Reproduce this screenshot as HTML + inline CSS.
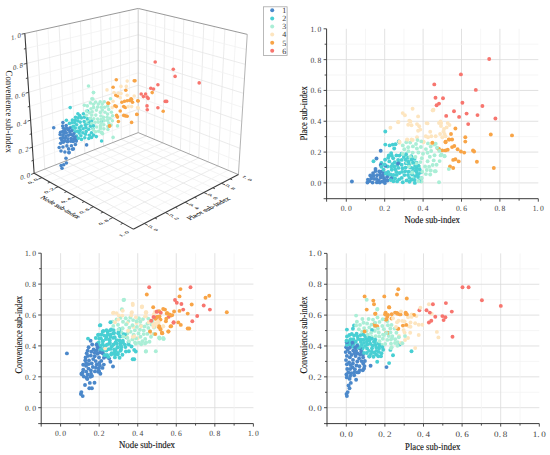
<!DOCTYPE html>
<html><head><meta charset="utf-8"><style>
html,body{margin:0;padding:0;background:#fff;width:550px;height:455px;overflow:hidden}
svg{display:block;font-family:"Liberation Serif",serif;text-rendering:geometricPrecision}
</style></head><body>
<svg width="550" height="455" viewBox="0 0 550 455">
<line x1="41.93" y1="177.68" x2="146.27" y2="135.98" stroke="#e6e6e6" stroke-width="0.8"/>
<line x1="44.80" y1="169.11" x2="144.23" y2="223.44" stroke="#e6e6e6" stroke-width="0.8"/>
<line x1="44.80" y1="169.11" x2="36.58" y2="30.89" stroke="#e6e6e6" stroke-width="0.8"/>
<line x1="146.27" y1="135.98" x2="146.85" y2="10.50" stroke="#e6e6e6" stroke-width="0.8"/>
<line x1="49.94" y1="182.19" x2="154.50" y2="139.43" stroke="#f1f1f1" stroke-width="0.8"/>
<line x1="55.20" y1="165.05" x2="154.90" y2="217.91" stroke="#f1f1f1" stroke-width="0.8"/>
<line x1="55.20" y1="165.05" x2="47.99" y2="28.36" stroke="#f1f1f1" stroke-width="0.8"/>
<line x1="154.50" y1="139.43" x2="155.73" y2="12.61" stroke="#f1f1f1" stroke-width="0.8"/>
<line x1="58.18" y1="186.83" x2="162.93" y2="142.96" stroke="#e6e6e6" stroke-width="0.8"/>
<line x1="65.34" y1="161.09" x2="165.25" y2="212.53" stroke="#e6e6e6" stroke-width="0.8"/>
<line x1="65.34" y1="161.09" x2="59.10" y2="25.91" stroke="#e6e6e6" stroke-width="0.8"/>
<line x1="162.93" y1="142.96" x2="164.85" y2="14.78" stroke="#e6e6e6" stroke-width="0.8"/>
<line x1="66.64" y1="191.61" x2="171.56" y2="146.57" stroke="#f1f1f1" stroke-width="0.8"/>
<line x1="75.24" y1="157.22" x2="175.31" y2="207.31" stroke="#f1f1f1" stroke-width="0.8"/>
<line x1="75.24" y1="157.22" x2="69.90" y2="23.52" stroke="#f1f1f1" stroke-width="0.8"/>
<line x1="171.56" y1="146.57" x2="174.20" y2="17.00" stroke="#f1f1f1" stroke-width="0.8"/>
<line x1="75.35" y1="196.51" x2="180.41" y2="150.28" stroke="#e6e6e6" stroke-width="0.8"/>
<line x1="84.89" y1="153.45" x2="185.09" y2="202.24" stroke="#e6e6e6" stroke-width="0.8"/>
<line x1="84.89" y1="153.45" x2="80.43" y2="21.20" stroke="#e6e6e6" stroke-width="0.8"/>
<line x1="180.41" y1="150.28" x2="183.80" y2="19.29" stroke="#e6e6e6" stroke-width="0.8"/>
<line x1="84.30" y1="201.56" x2="189.48" y2="154.07" stroke="#f1f1f1" stroke-width="0.8"/>
<line x1="94.32" y1="149.77" x2="194.59" y2="197.31" stroke="#f1f1f1" stroke-width="0.8"/>
<line x1="94.32" y1="149.77" x2="90.68" y2="18.94" stroke="#f1f1f1" stroke-width="0.8"/>
<line x1="189.48" y1="154.07" x2="193.67" y2="21.63" stroke="#f1f1f1" stroke-width="0.8"/>
<line x1="93.52" y1="206.75" x2="198.77" y2="157.97" stroke="#e6e6e6" stroke-width="0.8"/>
<line x1="103.52" y1="146.18" x2="203.83" y2="192.51" stroke="#e6e6e6" stroke-width="0.8"/>
<line x1="103.52" y1="146.18" x2="100.67" y2="16.73" stroke="#e6e6e6" stroke-width="0.8"/>
<line x1="198.77" y1="157.97" x2="203.80" y2="24.04" stroke="#e6e6e6" stroke-width="0.8"/>
<line x1="103.01" y1="212.10" x2="208.30" y2="161.96" stroke="#f1f1f1" stroke-width="0.8"/>
<line x1="112.50" y1="142.67" x2="212.83" y2="187.84" stroke="#f1f1f1" stroke-width="0.8"/>
<line x1="112.50" y1="142.67" x2="110.40" y2="14.58" stroke="#f1f1f1" stroke-width="0.8"/>
<line x1="208.30" y1="161.96" x2="214.21" y2="26.52" stroke="#f1f1f1" stroke-width="0.8"/>
<line x1="112.79" y1="217.61" x2="218.08" y2="166.05" stroke="#e6e6e6" stroke-width="0.8"/>
<line x1="121.28" y1="139.24" x2="221.58" y2="183.30" stroke="#e6e6e6" stroke-width="0.8"/>
<line x1="121.28" y1="139.24" x2="119.89" y2="12.48" stroke="#e6e6e6" stroke-width="0.8"/>
<line x1="218.08" y1="166.05" x2="224.92" y2="29.06" stroke="#e6e6e6" stroke-width="0.8"/>
<line x1="122.86" y1="223.29" x2="228.11" y2="170.25" stroke="#f1f1f1" stroke-width="0.8"/>
<line x1="129.85" y1="135.89" x2="230.11" y2="178.88" stroke="#f1f1f1" stroke-width="0.8"/>
<line x1="129.85" y1="135.89" x2="129.15" y2="10.44" stroke="#f1f1f1" stroke-width="0.8"/>
<line x1="228.11" y1="170.25" x2="235.93" y2="31.68" stroke="#f1f1f1" stroke-width="0.8"/>
<line x1="33.26" y1="160.33" x2="138.23" y2="121.00" stroke="#f1f1f1" stroke-width="0.8"/>
<line x1="138.23" y1="121.00" x2="239.23" y2="161.59" stroke="#f1f1f1" stroke-width="0.8"/>
<line x1="32.39" y1="147.17" x2="138.22" y2="109.22" stroke="#e6e6e6" stroke-width="0.8"/>
<line x1="138.22" y1="109.22" x2="240.07" y2="148.39" stroke="#e6e6e6" stroke-width="0.8"/>
<line x1="31.50" y1="133.79" x2="138.22" y2="97.26" stroke="#f1f1f1" stroke-width="0.8"/>
<line x1="138.22" y1="97.26" x2="240.91" y2="134.97" stroke="#f1f1f1" stroke-width="0.8"/>
<line x1="30.60" y1="120.18" x2="138.21" y2="85.13" stroke="#e6e6e6" stroke-width="0.8"/>
<line x1="138.21" y1="85.13" x2="241.77" y2="121.33" stroke="#e6e6e6" stroke-width="0.8"/>
<line x1="29.68" y1="106.34" x2="138.21" y2="72.82" stroke="#f1f1f1" stroke-width="0.8"/>
<line x1="138.21" y1="72.82" x2="242.65" y2="107.45" stroke="#f1f1f1" stroke-width="0.8"/>
<line x1="28.75" y1="92.27" x2="138.20" y2="60.33" stroke="#e6e6e6" stroke-width="0.8"/>
<line x1="138.20" y1="60.33" x2="243.54" y2="93.34" stroke="#e6e6e6" stroke-width="0.8"/>
<line x1="27.80" y1="77.95" x2="138.20" y2="47.65" stroke="#f1f1f1" stroke-width="0.8"/>
<line x1="138.20" y1="47.65" x2="244.44" y2="78.98" stroke="#f1f1f1" stroke-width="0.8"/>
<line x1="26.83" y1="63.38" x2="138.19" y2="34.78" stroke="#e6e6e6" stroke-width="0.8"/>
<line x1="138.19" y1="34.78" x2="245.37" y2="64.37" stroke="#e6e6e6" stroke-width="0.8"/>
<line x1="25.85" y1="48.56" x2="138.19" y2="21.71" stroke="#f1f1f1" stroke-width="0.8"/>
<line x1="138.19" y1="21.71" x2="246.30" y2="49.50" stroke="#f1f1f1" stroke-width="0.8"/>
<line x1="24.85" y1="33.48" x2="138.18" y2="8.44" stroke="#999999" stroke-width="1"/>
<line x1="138.18" y1="8.44" x2="247.26" y2="34.37" stroke="#999999" stroke-width="1"/>
<line x1="238.41" y1="174.57" x2="247.26" y2="34.37" stroke="#b4b4b4" stroke-width="1"/>
<line x1="138.23" y1="132.62" x2="138.18" y2="8.44" stroke="#cccccc" stroke-width="1"/>
<line x1="34.12" y1="173.28" x2="138.23" y2="132.62" stroke="#999999" stroke-width="0.9"/>
<line x1="138.23" y1="132.62" x2="238.41" y2="174.57" stroke="#999999" stroke-width="0.9"/>
<line x1="34.12" y1="173.28" x2="24.85" y2="33.48" stroke="#3a3a3a" stroke-width="1.1"/>
<line x1="34.12" y1="173.28" x2="133.25" y2="229.14" stroke="#3a3a3a" stroke-width="1.1"/>
<line x1="133.25" y1="229.14" x2="238.41" y2="174.57" stroke="#3a3a3a" stroke-width="1.1"/>
<line x1="34.12" y1="173.28" x2="31.14" y2="174.44" stroke="#3a3a3a" stroke-width="0.9"/>
<line x1="33.26" y1="160.33" x2="31.46" y2="161.01" stroke="#3a3a3a" stroke-width="0.9"/>
<line x1="32.39" y1="147.17" x2="29.35" y2="148.26" stroke="#3a3a3a" stroke-width="0.9"/>
<line x1="31.50" y1="133.79" x2="29.66" y2="134.42" stroke="#3a3a3a" stroke-width="0.9"/>
<line x1="30.60" y1="120.18" x2="27.50" y2="121.19" stroke="#3a3a3a" stroke-width="0.9"/>
<line x1="29.68" y1="106.34" x2="27.81" y2="106.92" stroke="#3a3a3a" stroke-width="0.9"/>
<line x1="28.75" y1="92.27" x2="25.59" y2="93.19" stroke="#3a3a3a" stroke-width="0.9"/>
<line x1="27.80" y1="77.95" x2="25.89" y2="78.47" stroke="#3a3a3a" stroke-width="0.9"/>
<line x1="26.83" y1="63.38" x2="23.61" y2="64.21" stroke="#3a3a3a" stroke-width="0.9"/>
<line x1="25.85" y1="48.56" x2="23.90" y2="49.03" stroke="#3a3a3a" stroke-width="0.9"/>
<line x1="24.85" y1="33.48" x2="21.56" y2="34.20" stroke="#3a3a3a" stroke-width="0.9"/>
<line x1="41.93" y1="177.68" x2="38.33" y2="179.11" stroke="#3a3a3a" stroke-width="0.9"/>
<line x1="144.23" y1="223.44" x2="147.73" y2="225.35" stroke="#3a3a3a" stroke-width="0.9"/>
<line x1="49.94" y1="182.19" x2="47.78" y2="183.08" stroke="#3a3a3a" stroke-width="0.9"/>
<line x1="154.90" y1="217.91" x2="156.99" y2="219.02" stroke="#3a3a3a" stroke-width="0.9"/>
<line x1="58.18" y1="186.83" x2="54.55" y2="188.35" stroke="#3a3a3a" stroke-width="0.9"/>
<line x1="165.25" y1="212.53" x2="168.75" y2="214.34" stroke="#3a3a3a" stroke-width="0.9"/>
<line x1="66.64" y1="191.61" x2="64.46" y2="192.54" stroke="#3a3a3a" stroke-width="0.9"/>
<line x1="175.31" y1="207.31" x2="177.41" y2="208.36" stroke="#3a3a3a" stroke-width="0.9"/>
<line x1="75.35" y1="196.51" x2="71.70" y2="198.12" stroke="#3a3a3a" stroke-width="0.9"/>
<line x1="185.09" y1="202.24" x2="188.58" y2="203.94" stroke="#3a3a3a" stroke-width="0.9"/>
<line x1="84.30" y1="201.56" x2="82.11" y2="202.55" stroke="#3a3a3a" stroke-width="0.9"/>
<line x1="194.59" y1="197.31" x2="196.68" y2="198.30" stroke="#3a3a3a" stroke-width="0.9"/>
<line x1="93.52" y1="206.75" x2="89.85" y2="208.45" stroke="#3a3a3a" stroke-width="0.9"/>
<line x1="203.83" y1="192.51" x2="207.32" y2="194.12" stroke="#3a3a3a" stroke-width="0.9"/>
<line x1="103.01" y1="212.10" x2="100.81" y2="213.15" stroke="#3a3a3a" stroke-width="0.9"/>
<line x1="212.83" y1="187.84" x2="214.92" y2="188.78" stroke="#3a3a3a" stroke-width="0.9"/>
<line x1="112.79" y1="217.61" x2="109.10" y2="219.42" stroke="#3a3a3a" stroke-width="0.9"/>
<line x1="221.58" y1="183.30" x2="225.06" y2="184.83" stroke="#3a3a3a" stroke-width="0.9"/>
<line x1="122.86" y1="223.29" x2="120.65" y2="224.40" stroke="#3a3a3a" stroke-width="0.9"/>
<line x1="230.11" y1="178.88" x2="232.19" y2="179.77" stroke="#3a3a3a" stroke-width="0.9"/>
<circle cx="62.7" cy="126.1" r="1.8" fill="#4b88ca"/>
<circle cx="85.5" cy="134.3" r="1.8" fill="#48cfd3"/>
<circle cx="91.6" cy="137.4" r="1.8" fill="#48cfd3"/>
<circle cx="121.0" cy="86.4" r="1.8" fill="#fde5bf"/>
<circle cx="141.2" cy="94.0" r="1.8" fill="#f7756e"/>
<circle cx="60.6" cy="143.3" r="1.8" fill="#4b88ca"/>
<circle cx="117.5" cy="117.1" r="1.8" fill="#f8a446"/>
<circle cx="102.6" cy="133.8" r="1.8" fill="#aaeed6"/>
<circle cx="91.7" cy="115.1" r="1.8" fill="#aaeed6"/>
<circle cx="199.2" cy="82.9" r="1.8" fill="#f7756e"/>
<circle cx="91.7" cy="120.8" r="1.8" fill="#48cfd3"/>
<circle cx="68.6" cy="135.2" r="1.8" fill="#4b88ca"/>
<circle cx="81.4" cy="117.9" r="1.8" fill="#48cfd3"/>
<circle cx="100.5" cy="128.6" r="1.8" fill="#aaeed6"/>
<circle cx="93.6" cy="92.6" r="1.8" fill="#aaeed6"/>
<circle cx="75.9" cy="139.5" r="1.8" fill="#4b88ca"/>
<circle cx="69.8" cy="132.1" r="1.8" fill="#4b88ca"/>
<circle cx="66.2" cy="125.6" r="1.8" fill="#4b88ca"/>
<circle cx="121.0" cy="93.4" r="1.8" fill="#fde5bf"/>
<circle cx="97.7" cy="119.1" r="1.8" fill="#aaeed6"/>
<circle cx="137.7" cy="107.5" r="1.8" fill="#fde5bf"/>
<circle cx="98.6" cy="131.3" r="1.8" fill="#aaeed6"/>
<circle cx="77.5" cy="131.2" r="1.8" fill="#48cfd3"/>
<circle cx="103.5" cy="117.4" r="1.8" fill="#aaeed6"/>
<circle cx="75.3" cy="128.1" r="1.8" fill="#48cfd3"/>
<circle cx="131.1" cy="98.7" r="1.8" fill="#f8a446"/>
<circle cx="107.9" cy="126.4" r="1.8" fill="#aaeed6"/>
<circle cx="108.7" cy="109.4" r="1.8" fill="#aaeed6"/>
<circle cx="66.4" cy="120.2" r="1.8" fill="#48cfd3"/>
<circle cx="73.5" cy="126.2" r="1.8" fill="#48cfd3"/>
<circle cx="67.1" cy="141.8" r="1.8" fill="#4b88ca"/>
<circle cx="78.2" cy="117.9" r="1.8" fill="#48cfd3"/>
<circle cx="100.5" cy="125.6" r="1.8" fill="#aaeed6"/>
<circle cx="155.2" cy="62.0" r="1.8" fill="#f7756e"/>
<circle cx="86.6" cy="144.9" r="1.8" fill="#4b88ca"/>
<circle cx="86.2" cy="131.4" r="1.8" fill="#48cfd3"/>
<circle cx="87.7" cy="123.8" r="1.8" fill="#48cfd3"/>
<circle cx="76.7" cy="124.8" r="1.8" fill="#48cfd3"/>
<circle cx="111.0" cy="125.1" r="1.8" fill="#aaeed6"/>
<circle cx="100.4" cy="112.4" r="1.8" fill="#aaeed6"/>
<circle cx="136.8" cy="114.2" r="1.8" fill="#f8a446"/>
<circle cx="91.9" cy="98.8" r="1.8" fill="#aaeed6"/>
<circle cx="60.1" cy="134.5" r="1.8" fill="#4b88ca"/>
<circle cx="64.9" cy="140.8" r="1.8" fill="#4b88ca"/>
<circle cx="74.6" cy="122.6" r="1.8" fill="#48cfd3"/>
<circle cx="173.3" cy="69.3" r="1.8" fill="#f7756e"/>
<circle cx="76.5" cy="136.0" r="1.8" fill="#48cfd3"/>
<circle cx="107.1" cy="117.2" r="1.8" fill="#aaeed6"/>
<circle cx="134.2" cy="96.0" r="1.8" fill="#fde5bf"/>
<circle cx="75.4" cy="144.5" r="1.8" fill="#4b88ca"/>
<circle cx="77.8" cy="121.0" r="1.8" fill="#48cfd3"/>
<circle cx="125.4" cy="115.9" r="1.8" fill="#f8a446"/>
<circle cx="91.0" cy="108.8" r="1.8" fill="#aaeed6"/>
<circle cx="62.9" cy="147.0" r="1.8" fill="#4b88ca"/>
<circle cx="165.2" cy="101.4" r="1.8" fill="#f7756e"/>
<circle cx="143.4" cy="96.6" r="1.8" fill="#f7756e"/>
<circle cx="101.7" cy="121.5" r="1.8" fill="#48cfd3"/>
<circle cx="107.6" cy="105.9" r="1.8" fill="#aaeed6"/>
<circle cx="157.9" cy="84.8" r="1.8" fill="#f7756e"/>
<circle cx="157.9" cy="107.7" r="1.8" fill="#f7756e"/>
<circle cx="127.2" cy="116.3" r="1.8" fill="#f8a446"/>
<circle cx="125.8" cy="90.2" r="1.8" fill="#f8a446"/>
<circle cx="79.2" cy="133.1" r="1.8" fill="#48cfd3"/>
<circle cx="72.8" cy="129.8" r="1.8" fill="#48cfd3"/>
<circle cx="62.7" cy="131.6" r="1.8" fill="#4b88ca"/>
<circle cx="116.3" cy="79.7" r="1.8" fill="#f8a446"/>
<circle cx="101.3" cy="122.7" r="1.8" fill="#aaeed6"/>
<circle cx="111.4" cy="112.2" r="1.8" fill="#aaeed6"/>
<circle cx="88.9" cy="122.8" r="1.8" fill="#aaeed6"/>
<circle cx="66.9" cy="145.9" r="1.8" fill="#4b88ca"/>
<circle cx="73.3" cy="141.4" r="1.8" fill="#4b88ca"/>
<circle cx="85.9" cy="127.6" r="1.8" fill="#48cfd3"/>
<circle cx="175.1" cy="76.4" r="1.8" fill="#f7756e"/>
<circle cx="63.2" cy="142.3" r="1.8" fill="#4b88ca"/>
<circle cx="72.4" cy="149.3" r="1.8" fill="#4b88ca"/>
<circle cx="136.9" cy="114.5" r="1.8" fill="#f8a446"/>
<circle cx="91.5" cy="132.8" r="1.8" fill="#48cfd3"/>
<circle cx="61.1" cy="165.6" r="1.8" fill="#4b88ca"/>
<circle cx="69.4" cy="123.4" r="1.8" fill="#48cfd3"/>
<circle cx="107.9" cy="103.1" r="1.8" fill="#f8a446"/>
<circle cx="81.5" cy="139.4" r="1.8" fill="#48cfd3"/>
<circle cx="93.1" cy="128.8" r="1.8" fill="#48cfd3"/>
<circle cx="63.4" cy="128.3" r="1.8" fill="#4b88ca"/>
<circle cx="95.8" cy="115.1" r="1.8" fill="#aaeed6"/>
<circle cx="112.3" cy="107.5" r="1.8" fill="#fde5bf"/>
<circle cx="79.2" cy="127.9" r="1.8" fill="#48cfd3"/>
<circle cx="121.9" cy="102.2" r="1.8" fill="#f8a446"/>
<circle cx="101.2" cy="132.6" r="1.8" fill="#aaeed6"/>
<circle cx="63.7" cy="164.7" r="1.8" fill="#4b88ca"/>
<circle cx="108.6" cy="103.2" r="1.8" fill="#f8a446"/>
<circle cx="98.3" cy="104.1" r="1.8" fill="#aaeed6"/>
<circle cx="63.0" cy="137.8" r="1.8" fill="#4b88ca"/>
<circle cx="93.6" cy="107.4" r="1.8" fill="#aaeed6"/>
<circle cx="125.4" cy="107.5" r="1.8" fill="#f8a446"/>
<circle cx="100.9" cy="116.0" r="1.8" fill="#aaeed6"/>
<circle cx="92.4" cy="126.5" r="1.8" fill="#aaeed6"/>
<circle cx="124.6" cy="101.3" r="1.8" fill="#f8a446"/>
<circle cx="61.0" cy="151.0" r="1.8" fill="#4b88ca"/>
<circle cx="85.4" cy="123.4" r="1.8" fill="#aaeed6"/>
<circle cx="148.2" cy="98.4" r="1.8" fill="#f7756e"/>
<circle cx="88.7" cy="129.2" r="1.8" fill="#48cfd3"/>
<circle cx="84.4" cy="117.3" r="1.8" fill="#48cfd3"/>
<circle cx="93.4" cy="92.5" r="1.8" fill="#aaeed6"/>
<circle cx="147.3" cy="109.8" r="1.8" fill="#f7756e"/>
<circle cx="126.3" cy="86.4" r="1.8" fill="#fde5bf"/>
<circle cx="129.8" cy="100.4" r="1.8" fill="#f8a446"/>
<circle cx="101.6" cy="132.2" r="1.8" fill="#aaeed6"/>
<circle cx="66.4" cy="163.0" r="1.8" fill="#4b88ca"/>
<circle cx="95.6" cy="102.1" r="1.8" fill="#aaeed6"/>
<circle cx="93.4" cy="129.9" r="1.8" fill="#aaeed6"/>
<circle cx="80.9" cy="135.7" r="1.8" fill="#48cfd3"/>
<circle cx="89.1" cy="121.7" r="1.8" fill="#48cfd3"/>
<circle cx="96.4" cy="110.1" r="1.8" fill="#aaeed6"/>
<circle cx="73.6" cy="138.8" r="1.8" fill="#4b88ca"/>
<circle cx="77.9" cy="113.7" r="1.8" fill="#48cfd3"/>
<circle cx="60.6" cy="132.3" r="1.8" fill="#4b88ca"/>
<circle cx="68.6" cy="148.9" r="1.8" fill="#4b88ca"/>
<circle cx="132.5" cy="102.2" r="1.8" fill="#f8a446"/>
<circle cx="104.3" cy="101.8" r="1.8" fill="#aaeed6"/>
<circle cx="66.6" cy="128.2" r="1.8" fill="#4b88ca"/>
<circle cx="65.4" cy="138.1" r="1.8" fill="#4b88ca"/>
<circle cx="67.9" cy="141.6" r="1.8" fill="#4b88ca"/>
<circle cx="108.8" cy="123.1" r="1.8" fill="#aaeed6"/>
<circle cx="128.1" cy="106.6" r="1.8" fill="#fde5bf"/>
<circle cx="66.0" cy="158.2" r="1.8" fill="#4b88ca"/>
<circle cx="123.7" cy="115.4" r="1.8" fill="#f8a446"/>
<circle cx="65.0" cy="130.4" r="1.8" fill="#4b88ca"/>
<circle cx="90.9" cy="123.7" r="1.8" fill="#48cfd3"/>
<circle cx="87.4" cy="120.3" r="1.8" fill="#aaeed6"/>
<circle cx="90.5" cy="126.3" r="1.8" fill="#48cfd3"/>
<circle cx="81.2" cy="126.1" r="1.8" fill="#48cfd3"/>
<circle cx="131.6" cy="122.4" r="1.8" fill="#f8a446"/>
<circle cx="88.5" cy="86.0" r="1.8" fill="#aaeed6"/>
<circle cx="101.2" cy="107.3" r="1.8" fill="#aaeed6"/>
<circle cx="87.6" cy="111.0" r="1.8" fill="#48cfd3"/>
<circle cx="82.8" cy="132.8" r="1.8" fill="#48cfd3"/>
<circle cx="69.0" cy="152.4" r="1.8" fill="#4b88ca"/>
<circle cx="112.4" cy="120.8" r="1.8" fill="#aaeed6"/>
<circle cx="98.3" cy="122.1" r="1.8" fill="#aaeed6"/>
<circle cx="71.2" cy="127.3" r="1.8" fill="#48cfd3"/>
<circle cx="103.8" cy="124.7" r="1.8" fill="#aaeed6"/>
<circle cx="113.1" cy="87.3" r="1.8" fill="#f8a446"/>
<circle cx="114.9" cy="105.7" r="1.8" fill="#f8a446"/>
<circle cx="76.3" cy="141.1" r="1.8" fill="#4b88ca"/>
<circle cx="110.5" cy="98.7" r="1.8" fill="#aaeed6"/>
<circle cx="107.6" cy="120.4" r="1.8" fill="#aaeed6"/>
<circle cx="60.7" cy="138.2" r="1.8" fill="#4b88ca"/>
<circle cx="75.1" cy="131.9" r="1.8" fill="#48cfd3"/>
<circle cx="86.4" cy="115.3" r="1.8" fill="#aaeed6"/>
<circle cx="104.6" cy="107.3" r="1.8" fill="#aaeed6"/>
<circle cx="73.4" cy="148.9" r="1.8" fill="#4b88ca"/>
<circle cx="127.2" cy="81.1" r="1.8" fill="#fde5bf"/>
<circle cx="75.2" cy="137.1" r="1.8" fill="#4b88ca"/>
<circle cx="107.6" cy="114.1" r="1.8" fill="#aaeed6"/>
<circle cx="120.2" cy="97.8" r="1.8" fill="#fde5bf"/>
<circle cx="127.2" cy="100.8" r="1.8" fill="#f8a446"/>
<circle cx="84.1" cy="121.5" r="1.8" fill="#48cfd3"/>
<circle cx="115.8" cy="95.2" r="1.8" fill="#f8a446"/>
<circle cx="127.2" cy="95.2" r="1.8" fill="#fde5bf"/>
<circle cx="120.2" cy="111.0" r="1.8" fill="#f8a446"/>
<circle cx="109.5" cy="126.1" r="1.8" fill="#f8a446"/>
<circle cx="89.3" cy="112.7" r="1.8" fill="#aaeed6"/>
<circle cx="163.2" cy="111.2" r="1.8" fill="#f8a446"/>
<circle cx="71.6" cy="130.8" r="1.8" fill="#4b88ca"/>
<circle cx="89.4" cy="135.2" r="1.8" fill="#48cfd3"/>
<circle cx="107.9" cy="129.5" r="1.8" fill="#aaeed6"/>
<circle cx="80.2" cy="122.1" r="1.8" fill="#48cfd3"/>
<circle cx="64.1" cy="133.3" r="1.8" fill="#4b88ca"/>
<circle cx="96.7" cy="127.0" r="1.8" fill="#aaeed6"/>
<circle cx="93.6" cy="135.1" r="1.8" fill="#48cfd3"/>
<circle cx="105.0" cy="112.2" r="1.8" fill="#aaeed6"/>
<circle cx="75.3" cy="120.1" r="1.8" fill="#48cfd3"/>
<circle cx="62.9" cy="122.5" r="1.8" fill="#4b88ca"/>
<circle cx="110.0" cy="118.2" r="1.8" fill="#aaeed6"/>
<circle cx="70.8" cy="141.2" r="1.8" fill="#4b88ca"/>
<circle cx="97.6" cy="107.1" r="1.8" fill="#aaeed6"/>
<circle cx="138.2" cy="101.0" r="1.8" fill="#f8a446"/>
<circle cx="61.9" cy="140.3" r="1.8" fill="#4b88ca"/>
<circle cx="78.4" cy="138.3" r="1.8" fill="#48cfd3"/>
<circle cx="63.2" cy="141.4" r="1.8" fill="#4b88ca"/>
<circle cx="70.2" cy="107.6" r="1.8" fill="#48cfd3"/>
<circle cx="152.2" cy="92.6" r="1.8" fill="#f8a446"/>
<circle cx="75.5" cy="117.3" r="1.8" fill="#48cfd3"/>
<circle cx="73.0" cy="141.2" r="1.8" fill="#4b88ca"/>
<circle cx="96.3" cy="136.6" r="1.8" fill="#48cfd3"/>
<circle cx="92.1" cy="111.7" r="1.8" fill="#aaeed6"/>
<circle cx="69.0" cy="152.7" r="1.8" fill="#4b88ca"/>
<circle cx="90.4" cy="102.9" r="1.8" fill="#aaeed6"/>
<circle cx="87.3" cy="105.9" r="1.8" fill="#aaeed6"/>
<circle cx="90.2" cy="118.6" r="1.8" fill="#48cfd3"/>
<circle cx="71.0" cy="138.5" r="1.8" fill="#4b88ca"/>
<circle cx="135.0" cy="80.8" r="1.8" fill="#f8a446"/>
<circle cx="118.4" cy="121.5" r="1.8" fill="#f8a446"/>
<circle cx="92.9" cy="99.0" r="1.8" fill="#aaeed6"/>
<circle cx="147.0" cy="97.1" r="1.8" fill="#f7756e"/>
<circle cx="62.9" cy="135.4" r="1.8" fill="#4b88ca"/>
<circle cx="87.4" cy="118.8" r="1.8" fill="#48cfd3"/>
<circle cx="73.8" cy="133.7" r="1.8" fill="#4b88ca"/>
<circle cx="102.2" cy="104.1" r="1.8" fill="#aaeed6"/>
<circle cx="101.0" cy="119.5" r="1.8" fill="#aaeed6"/>
<circle cx="109.6" cy="125.9" r="1.8" fill="#f8a446"/>
<circle cx="71.4" cy="145.8" r="1.8" fill="#4b88ca"/>
<circle cx="84.4" cy="105.2" r="1.8" fill="#aaeed6"/>
<circle cx="71.9" cy="122.8" r="1.8" fill="#48cfd3"/>
<circle cx="102.3" cy="110.0" r="1.8" fill="#aaeed6"/>
<circle cx="93.4" cy="104.3" r="1.8" fill="#aaeed6"/>
<circle cx="80.2" cy="130.5" r="1.8" fill="#48cfd3"/>
<circle cx="91.7" cy="123.6" r="1.8" fill="#aaeed6"/>
<circle cx="83.1" cy="128.7" r="1.8" fill="#48cfd3"/>
<circle cx="123.7" cy="106.6" r="1.8" fill="#f8a446"/>
<circle cx="53.7" cy="127.8" r="1.8" fill="#4b88ca"/>
<circle cx="88.8" cy="138.5" r="1.8" fill="#48cfd3"/>
<circle cx="68.4" cy="129.8" r="1.8" fill="#4b88ca"/>
<circle cx="90.3" cy="118.6" r="1.8" fill="#aaeed6"/>
<circle cx="134.2" cy="80.7" r="1.8" fill="#f8a446"/>
<circle cx="147.0" cy="105.9" r="1.8" fill="#f7756e"/>
<circle cx="93.5" cy="125.8" r="1.8" fill="#48cfd3"/>
<circle cx="66.0" cy="136.0" r="1.8" fill="#4b88ca"/>
<circle cx="107.0" cy="89.9" r="1.8" fill="#fde5bf"/>
<circle cx="84.8" cy="137.8" r="1.8" fill="#48cfd3"/>
<circle cx="150.8" cy="88.3" r="1.8" fill="#f7756e"/>
<circle cx="85.3" cy="124.9" r="1.8" fill="#48cfd3"/>
<circle cx="70.8" cy="134.5" r="1.8" fill="#4b88ca"/>
<circle cx="116.3" cy="106.6" r="1.8" fill="#f8a446"/>
<circle cx="116.6" cy="115.4" r="1.8" fill="#f8a446"/>
<circle cx="72.9" cy="135.7" r="1.8" fill="#4b88ca"/>
<circle cx="113.1" cy="137.4" r="1.8" fill="#aaeed6"/>
<circle cx="137.7" cy="100.8" r="1.8" fill="#f8a446"/>
<circle cx="101.6" cy="141.0" r="1.8" fill="#48cfd3"/>
<circle cx="67.9" cy="138.7" r="1.8" fill="#4b88ca"/>
<circle cx="114.0" cy="92.5" r="1.8" fill="#fde5bf"/>
<circle cx="117.5" cy="96.0" r="1.8" fill="#f8a446"/>
<circle cx="104.2" cy="120.6" r="1.8" fill="#aaeed6"/>
<circle cx="131.6" cy="106.6" r="1.8" fill="#fde5bf"/>
<circle cx="138.2" cy="108.0" r="1.8" fill="#fde5bf"/>
<circle cx="64.9" cy="152.0" r="1.8" fill="#4b88ca"/>
<circle cx="66.3" cy="132.8" r="1.8" fill="#4b88ca"/>
<circle cx="112.6" cy="115.7" r="1.8" fill="#aaeed6"/>
<circle cx="117.5" cy="125.9" r="1.8" fill="#aaeed6"/>
<circle cx="166.7" cy="101.4" r="1.8" fill="#f7756e"/>
<circle cx="103.9" cy="128.8" r="1.8" fill="#aaeed6"/>
<circle cx="86.4" cy="111.0" r="1.8" fill="#aaeed6"/>
<circle cx="118.4" cy="93.4" r="1.8" fill="#fde5bf"/>
<circle cx="100.2" cy="101.7" r="1.8" fill="#aaeed6"/>
<circle cx="83.4" cy="113.8" r="1.8" fill="#48cfd3"/>
<circle cx="95.2" cy="122.3" r="1.8" fill="#aaeed6"/>
<circle cx="113.1" cy="101.3" r="1.8" fill="#fde5bf"/>
<circle cx="59.2" cy="147.5" r="1.8" fill="#4b88ca"/>
<circle cx="95.7" cy="131.8" r="1.8" fill="#aaeed6"/>
<circle cx="131.6" cy="99.6" r="1.8" fill="#f8a446"/>
<circle cx="153.5" cy="89.0" r="1.8" fill="#f7756e"/>
<circle cx="79.7" cy="115.6" r="1.8" fill="#48cfd3"/>
<circle cx="93.8" cy="118.8" r="1.8" fill="#aaeed6"/>
<circle cx="100.7" cy="126.9" r="1.8" fill="#aaeed6"/>
<circle cx="62.0" cy="168.3" r="1.8" fill="#4b88ca"/>
<circle cx="72.4" cy="120.1" r="1.8" fill="#48cfd3"/>
<circle cx="69.8" cy="128.0" r="1.8" fill="#4b88ca"/>
<circle cx="145.6" cy="94.0" r="1.8" fill="#f7756e"/>
<text font-size="6.9" fill="#444" text-anchor="middle" transform="translate(25.32 176.28) skewY(-18)" y="2.4">0. 0</text>
<text font-size="6.9" fill="#444" text-anchor="middle" transform="translate(23.59 150.17) skewY(-18)" y="2.4">0. 2</text>
<text font-size="6.9" fill="#444" text-anchor="middle" transform="translate(21.80 123.18) skewY(-18)" y="2.4">0. 4</text>
<text font-size="6.9" fill="#444" text-anchor="middle" transform="translate(19.95 95.27) skewY(-18)" y="2.4">0. 6</text>
<text font-size="6.9" fill="#444" text-anchor="middle" transform="translate(18.03 66.38) skewY(-18)" y="2.4">0. 8</text>
<text font-size="6.9" fill="#444" text-anchor="middle" transform="translate(16.05 36.48) skewY(-18)" y="2.4">1. 0</text>
<text font-size="6.8" fill="#333" stroke="#333" stroke-width="0.15" text-anchor="middle" transform="matrix(0.8880 -0.4600 0.5662 0.3191 32.87 181.29)" y="2.3">0. 0</text>
<text font-size="6.8" fill="#333" stroke="#333" stroke-width="0.15" text-anchor="middle" transform="matrix(0.8710 0.4910 -0.5772 0.2990 153.05 228.26)" y="2.3">0. 0</text>
<text font-size="6.8" fill="#333" stroke="#333" stroke-width="0.15" text-anchor="middle" transform="matrix(0.8880 -0.4600 0.5662 0.3191 49.06 190.66)" y="2.3">0. 2</text>
<text font-size="6.8" fill="#333" stroke="#333" stroke-width="0.15" text-anchor="middle" transform="matrix(0.8710 0.4910 -0.5772 0.2990 174.07 217.08)" y="2.3">0. 2</text>
<text font-size="6.8" fill="#333" stroke="#333" stroke-width="0.15" text-anchor="middle" transform="matrix(0.8880 -0.4600 0.5662 0.3191 66.16 200.55)" y="2.3">0. 4</text>
<text font-size="6.8" fill="#333" stroke="#333" stroke-width="0.15" text-anchor="middle" transform="matrix(0.8710 0.4910 -0.5772 0.2990 193.89 206.53)" y="2.3">0. 4</text>
<text font-size="6.8" fill="#333" stroke="#333" stroke-width="0.15" text-anchor="middle" transform="matrix(0.8880 -0.4600 0.5662 0.3191 84.28 211.04)" y="2.3">0. 6</text>
<text font-size="6.8" fill="#333" stroke="#333" stroke-width="0.15" text-anchor="middle" transform="matrix(0.8710 0.4910 -0.5772 0.2990 212.62 196.57)" y="2.3">0. 6</text>
<text font-size="6.8" fill="#333" stroke="#333" stroke-width="0.15" text-anchor="middle" transform="matrix(0.8880 -0.4600 0.5662 0.3191 103.50 222.16)" y="2.3">0. 8</text>
<text font-size="6.8" fill="#333" stroke="#333" stroke-width="0.15" text-anchor="middle" transform="matrix(0.8710 0.4910 -0.5772 0.2990 230.33 187.14)" y="2.3">0. 8</text>
<text font-size="6.8" fill="#333" stroke="#333" stroke-width="0.15" text-anchor="middle" transform="matrix(0.8880 -0.4600 0.5662 0.3191 123.93 233.98)" y="2.3">1. 0</text>
<text font-size="6.8" fill="#333" stroke="#333" stroke-width="0.15" text-anchor="middle" transform="matrix(0.8710 0.4910 -0.5772 0.2990 247.12 178.21)" y="2.3">1. 0</text>
<text font-size="8.8" fill="#222" stroke="#222" stroke-width="0.2" text-anchor="middle" transform="matrix(0.8710 0.4910 -0.7104 0.3680 60.60 207.10)" y="3" textLength="43" lengthAdjust="spacingAndGlyphs">Node sub-index</text>
<text font-size="8.8" fill="#222" stroke="#222" stroke-width="0.2" text-anchor="middle" transform="matrix(0.8880 -0.4600 0.6968 0.3928 208.30 208.50)" y="3" textLength="46" lengthAdjust="spacingAndGlyphs">Place sub-index</text>
<text x="111.8" y="-6" font-size="9.6" fill="#222" text-anchor="middle" textLength="82.4" lengthAdjust="spacingAndGlyphs" transform="rotate(90)">Convenience sub-index</text>
<rect x="263.5" y="6.8" width="23.6" height="48.6" fill="#fff" stroke="#a8a8a8" stroke-width="0.8"/>
<circle cx="272.2" cy="10.30" r="2.0" fill="#4b88ca"/>
<text x="284.30" y="13.10" font-size="8.0" fill="#333" text-anchor="middle" >1</text>
<circle cx="272.2" cy="18.40" r="2.0" fill="#48cfd3"/>
<text x="284.30" y="21.20" font-size="8.0" fill="#333" text-anchor="middle" >2</text>
<circle cx="272.2" cy="26.50" r="2.0" fill="#aaeed6"/>
<text x="284.30" y="29.30" font-size="8.0" fill="#333" text-anchor="middle" >3</text>
<circle cx="272.2" cy="34.60" r="2.0" fill="#fde5bf"/>
<text x="284.30" y="37.40" font-size="8.0" fill="#333" text-anchor="middle" >4</text>
<circle cx="272.2" cy="42.70" r="2.0" fill="#f8a446"/>
<text x="284.30" y="45.50" font-size="8.0" fill="#333" text-anchor="middle" >5</text>
<circle cx="272.2" cy="50.80" r="2.0" fill="#f7756e"/>
<text x="284.30" y="53.60" font-size="8.0" fill="#333" text-anchor="middle" >6</text>
<line x1="346.30" y1="198.70" x2="346.30" y2="28.80" stroke="#d9d9d9" stroke-width="0.8"/>
<line x1="326.60" y1="182.90" x2="538.30" y2="182.90" stroke="#d9d9d9" stroke-width="0.8"/>
<line x1="365.50" y1="198.70" x2="365.50" y2="28.80" stroke="#f4f4f4" stroke-width="0.8"/>
<line x1="326.60" y1="167.49" x2="538.30" y2="167.49" stroke="#f4f4f4" stroke-width="0.8"/>
<line x1="384.70" y1="198.70" x2="384.70" y2="28.80" stroke="#d9d9d9" stroke-width="0.8"/>
<line x1="326.60" y1="152.08" x2="538.30" y2="152.08" stroke="#d9d9d9" stroke-width="0.8"/>
<line x1="403.90" y1="198.70" x2="403.90" y2="28.80" stroke="#f4f4f4" stroke-width="0.8"/>
<line x1="326.60" y1="136.67" x2="538.30" y2="136.67" stroke="#f4f4f4" stroke-width="0.8"/>
<line x1="423.10" y1="198.70" x2="423.10" y2="28.80" stroke="#d9d9d9" stroke-width="0.8"/>
<line x1="326.60" y1="121.26" x2="538.30" y2="121.26" stroke="#d9d9d9" stroke-width="0.8"/>
<line x1="442.30" y1="198.70" x2="442.30" y2="28.80" stroke="#f4f4f4" stroke-width="0.8"/>
<line x1="326.60" y1="105.85" x2="538.30" y2="105.85" stroke="#f4f4f4" stroke-width="0.8"/>
<line x1="461.50" y1="198.70" x2="461.50" y2="28.80" stroke="#d9d9d9" stroke-width="0.8"/>
<line x1="326.60" y1="90.44" x2="538.30" y2="90.44" stroke="#d9d9d9" stroke-width="0.8"/>
<line x1="480.70" y1="198.70" x2="480.70" y2="28.80" stroke="#f4f4f4" stroke-width="0.8"/>
<line x1="326.60" y1="75.03" x2="538.30" y2="75.03" stroke="#f4f4f4" stroke-width="0.8"/>
<line x1="499.90" y1="198.70" x2="499.90" y2="28.80" stroke="#d9d9d9" stroke-width="0.8"/>
<line x1="326.60" y1="59.62" x2="538.30" y2="59.62" stroke="#d9d9d9" stroke-width="0.8"/>
<line x1="519.10" y1="198.70" x2="519.10" y2="28.80" stroke="#f4f4f4" stroke-width="0.8"/>
<line x1="326.60" y1="44.21" x2="538.30" y2="44.21" stroke="#f4f4f4" stroke-width="0.8"/>
<line x1="326.60" y1="28.80" x2="326.60" y2="199.20" stroke="#3a3a3a" stroke-width="1"/>
<line x1="326.10" y1="198.70" x2="538.30" y2="198.70" stroke="#3a3a3a" stroke-width="1"/>
<line x1="346.30" y1="198.70" x2="346.30" y2="201.70" stroke="#3a3a3a" stroke-width="0.9"/>
<line x1="326.60" y1="182.90" x2="323.60" y2="182.90" stroke="#3a3a3a" stroke-width="0.9"/>
<line x1="365.50" y1="198.70" x2="365.50" y2="200.70" stroke="#3a3a3a" stroke-width="0.9"/>
<line x1="326.60" y1="167.49" x2="324.60" y2="167.49" stroke="#3a3a3a" stroke-width="0.9"/>
<line x1="384.70" y1="198.70" x2="384.70" y2="201.70" stroke="#3a3a3a" stroke-width="0.9"/>
<line x1="326.60" y1="152.08" x2="323.60" y2="152.08" stroke="#3a3a3a" stroke-width="0.9"/>
<line x1="403.90" y1="198.70" x2="403.90" y2="200.70" stroke="#3a3a3a" stroke-width="0.9"/>
<line x1="326.60" y1="136.67" x2="324.60" y2="136.67" stroke="#3a3a3a" stroke-width="0.9"/>
<line x1="423.10" y1="198.70" x2="423.10" y2="201.70" stroke="#3a3a3a" stroke-width="0.9"/>
<line x1="326.60" y1="121.26" x2="323.60" y2="121.26" stroke="#3a3a3a" stroke-width="0.9"/>
<line x1="442.30" y1="198.70" x2="442.30" y2="200.70" stroke="#3a3a3a" stroke-width="0.9"/>
<line x1="326.60" y1="105.85" x2="324.60" y2="105.85" stroke="#3a3a3a" stroke-width="0.9"/>
<line x1="461.50" y1="198.70" x2="461.50" y2="201.70" stroke="#3a3a3a" stroke-width="0.9"/>
<line x1="326.60" y1="90.44" x2="323.60" y2="90.44" stroke="#3a3a3a" stroke-width="0.9"/>
<line x1="480.70" y1="198.70" x2="480.70" y2="200.70" stroke="#3a3a3a" stroke-width="0.9"/>
<line x1="326.60" y1="75.03" x2="324.60" y2="75.03" stroke="#3a3a3a" stroke-width="0.9"/>
<line x1="499.90" y1="198.70" x2="499.90" y2="201.70" stroke="#3a3a3a" stroke-width="0.9"/>
<line x1="326.60" y1="59.62" x2="323.60" y2="59.62" stroke="#3a3a3a" stroke-width="0.9"/>
<line x1="519.10" y1="198.70" x2="519.10" y2="200.70" stroke="#3a3a3a" stroke-width="0.9"/>
<line x1="326.60" y1="44.21" x2="324.60" y2="44.21" stroke="#3a3a3a" stroke-width="0.9"/>
<line x1="538.30" y1="198.70" x2="538.30" y2="201.70" stroke="#3a3a3a" stroke-width="0.9"/>
<line x1="326.60" y1="28.80" x2="323.60" y2="28.80" stroke="#3a3a3a" stroke-width="0.9"/>
<line x1="326.60" y1="198.70" x2="326.60" y2="201.70" stroke="#3a3a3a" stroke-width="0.9"/>
<line x1="326.60" y1="198.70" x2="323.60" y2="198.70" stroke="#3a3a3a" stroke-width="0.9"/>
<text x="346.30" y="210.50" font-size="8.0" fill="#3e3e3e" text-anchor="middle" textLength="11" lengthAdjust="spacingAndGlyphs">0. 0</text>
<text x="321.40" y="185.80" font-size="8.0" fill="#3e3e3e" text-anchor="end" textLength="11" lengthAdjust="spacingAndGlyphs">0. 0</text>
<text x="384.70" y="210.50" font-size="8.0" fill="#3e3e3e" text-anchor="middle" textLength="11" lengthAdjust="spacingAndGlyphs">0. 2</text>
<text x="321.40" y="154.98" font-size="8.0" fill="#3e3e3e" text-anchor="end" textLength="11" lengthAdjust="spacingAndGlyphs">0. 2</text>
<text x="423.10" y="210.50" font-size="8.0" fill="#3e3e3e" text-anchor="middle" textLength="11" lengthAdjust="spacingAndGlyphs">0. 4</text>
<text x="321.40" y="124.16" font-size="8.0" fill="#3e3e3e" text-anchor="end" textLength="11" lengthAdjust="spacingAndGlyphs">0. 4</text>
<text x="461.50" y="210.50" font-size="8.0" fill="#3e3e3e" text-anchor="middle" textLength="11" lengthAdjust="spacingAndGlyphs">0. 6</text>
<text x="321.40" y="93.34" font-size="8.0" fill="#3e3e3e" text-anchor="end" textLength="11" lengthAdjust="spacingAndGlyphs">0. 6</text>
<text x="499.90" y="210.50" font-size="8.0" fill="#3e3e3e" text-anchor="middle" textLength="11" lengthAdjust="spacingAndGlyphs">0. 8</text>
<text x="321.40" y="62.52" font-size="8.0" fill="#3e3e3e" text-anchor="end" textLength="11" lengthAdjust="spacingAndGlyphs">0. 8</text>
<text x="538.30" y="210.50" font-size="8.0" fill="#3e3e3e" text-anchor="middle" textLength="11" lengthAdjust="spacingAndGlyphs">1. 0</text>
<text x="321.40" y="31.70" font-size="8.0" fill="#3e3e3e" text-anchor="end" textLength="11" lengthAdjust="spacingAndGlyphs">1. 0</text>
<text x="432.20" y="222.50" font-size="10.2" fill="#111" stroke="#111" stroke-width="0.12" text-anchor="middle" textLength="55.6" lengthAdjust="spacingAndGlyphs">Node sub-index</text>
<text x="307.30" y="113.40" font-size="10.2" fill="#111" stroke="#111" stroke-width="0.12" text-anchor="middle" textLength="54.4" lengthAdjust="spacingAndGlyphs" transform="rotate(-90 307.30 113.40)">Place sub-index</text>
<line x1="60.60" y1="423.60" x2="60.60" y2="253.20" stroke="#d9d9d9" stroke-width="0.8"/>
<line x1="41.20" y1="407.70" x2="253.40" y2="407.70" stroke="#d9d9d9" stroke-width="0.8"/>
<line x1="79.88" y1="423.60" x2="79.88" y2="253.20" stroke="#f4f4f4" stroke-width="0.8"/>
<line x1="41.20" y1="392.25" x2="253.40" y2="392.25" stroke="#f4f4f4" stroke-width="0.8"/>
<line x1="99.16" y1="423.60" x2="99.16" y2="253.20" stroke="#d9d9d9" stroke-width="0.8"/>
<line x1="41.20" y1="376.80" x2="253.40" y2="376.80" stroke="#d9d9d9" stroke-width="0.8"/>
<line x1="118.44" y1="423.60" x2="118.44" y2="253.20" stroke="#f4f4f4" stroke-width="0.8"/>
<line x1="41.20" y1="361.35" x2="253.40" y2="361.35" stroke="#f4f4f4" stroke-width="0.8"/>
<line x1="137.72" y1="423.60" x2="137.72" y2="253.20" stroke="#d9d9d9" stroke-width="0.8"/>
<line x1="41.20" y1="345.90" x2="253.40" y2="345.90" stroke="#d9d9d9" stroke-width="0.8"/>
<line x1="157.00" y1="423.60" x2="157.00" y2="253.20" stroke="#f4f4f4" stroke-width="0.8"/>
<line x1="41.20" y1="330.45" x2="253.40" y2="330.45" stroke="#f4f4f4" stroke-width="0.8"/>
<line x1="176.28" y1="423.60" x2="176.28" y2="253.20" stroke="#d9d9d9" stroke-width="0.8"/>
<line x1="41.20" y1="315.00" x2="253.40" y2="315.00" stroke="#d9d9d9" stroke-width="0.8"/>
<line x1="195.56" y1="423.60" x2="195.56" y2="253.20" stroke="#f4f4f4" stroke-width="0.8"/>
<line x1="41.20" y1="299.55" x2="253.40" y2="299.55" stroke="#f4f4f4" stroke-width="0.8"/>
<line x1="214.84" y1="423.60" x2="214.84" y2="253.20" stroke="#d9d9d9" stroke-width="0.8"/>
<line x1="41.20" y1="284.10" x2="253.40" y2="284.10" stroke="#d9d9d9" stroke-width="0.8"/>
<line x1="234.12" y1="423.60" x2="234.12" y2="253.20" stroke="#f4f4f4" stroke-width="0.8"/>
<line x1="41.20" y1="268.65" x2="253.40" y2="268.65" stroke="#f4f4f4" stroke-width="0.8"/>
<line x1="41.20" y1="253.20" x2="41.20" y2="424.10" stroke="#3a3a3a" stroke-width="1"/>
<line x1="40.70" y1="423.60" x2="253.40" y2="423.60" stroke="#3a3a3a" stroke-width="1"/>
<line x1="60.60" y1="423.60" x2="60.60" y2="426.60" stroke="#3a3a3a" stroke-width="0.9"/>
<line x1="41.20" y1="407.70" x2="38.20" y2="407.70" stroke="#3a3a3a" stroke-width="0.9"/>
<line x1="79.88" y1="423.60" x2="79.88" y2="425.60" stroke="#3a3a3a" stroke-width="0.9"/>
<line x1="41.20" y1="392.25" x2="39.20" y2="392.25" stroke="#3a3a3a" stroke-width="0.9"/>
<line x1="99.16" y1="423.60" x2="99.16" y2="426.60" stroke="#3a3a3a" stroke-width="0.9"/>
<line x1="41.20" y1="376.80" x2="38.20" y2="376.80" stroke="#3a3a3a" stroke-width="0.9"/>
<line x1="118.44" y1="423.60" x2="118.44" y2="425.60" stroke="#3a3a3a" stroke-width="0.9"/>
<line x1="41.20" y1="361.35" x2="39.20" y2="361.35" stroke="#3a3a3a" stroke-width="0.9"/>
<line x1="137.72" y1="423.60" x2="137.72" y2="426.60" stroke="#3a3a3a" stroke-width="0.9"/>
<line x1="41.20" y1="345.90" x2="38.20" y2="345.90" stroke="#3a3a3a" stroke-width="0.9"/>
<line x1="157.00" y1="423.60" x2="157.00" y2="425.60" stroke="#3a3a3a" stroke-width="0.9"/>
<line x1="41.20" y1="330.45" x2="39.20" y2="330.45" stroke="#3a3a3a" stroke-width="0.9"/>
<line x1="176.28" y1="423.60" x2="176.28" y2="426.60" stroke="#3a3a3a" stroke-width="0.9"/>
<line x1="41.20" y1="315.00" x2="38.20" y2="315.00" stroke="#3a3a3a" stroke-width="0.9"/>
<line x1="195.56" y1="423.60" x2="195.56" y2="425.60" stroke="#3a3a3a" stroke-width="0.9"/>
<line x1="41.20" y1="299.55" x2="39.20" y2="299.55" stroke="#3a3a3a" stroke-width="0.9"/>
<line x1="214.84" y1="423.60" x2="214.84" y2="426.60" stroke="#3a3a3a" stroke-width="0.9"/>
<line x1="41.20" y1="284.10" x2="38.20" y2="284.10" stroke="#3a3a3a" stroke-width="0.9"/>
<line x1="234.12" y1="423.60" x2="234.12" y2="425.60" stroke="#3a3a3a" stroke-width="0.9"/>
<line x1="41.20" y1="268.65" x2="39.20" y2="268.65" stroke="#3a3a3a" stroke-width="0.9"/>
<line x1="253.40" y1="423.60" x2="253.40" y2="426.60" stroke="#3a3a3a" stroke-width="0.9"/>
<line x1="41.20" y1="253.20" x2="38.20" y2="253.20" stroke="#3a3a3a" stroke-width="0.9"/>
<line x1="41.20" y1="423.60" x2="41.20" y2="426.60" stroke="#3a3a3a" stroke-width="0.9"/>
<line x1="41.20" y1="423.60" x2="38.20" y2="423.60" stroke="#3a3a3a" stroke-width="0.9"/>
<text x="60.60" y="435.50" font-size="8.0" fill="#3e3e3e" text-anchor="middle" textLength="11" lengthAdjust="spacingAndGlyphs">0. 0</text>
<text x="36.00" y="410.60" font-size="8.0" fill="#3e3e3e" text-anchor="end" textLength="11" lengthAdjust="spacingAndGlyphs">0. 0</text>
<text x="99.16" y="435.50" font-size="8.0" fill="#3e3e3e" text-anchor="middle" textLength="11" lengthAdjust="spacingAndGlyphs">0. 2</text>
<text x="36.00" y="379.70" font-size="8.0" fill="#3e3e3e" text-anchor="end" textLength="11" lengthAdjust="spacingAndGlyphs">0. 2</text>
<text x="137.72" y="435.50" font-size="8.0" fill="#3e3e3e" text-anchor="middle" textLength="11" lengthAdjust="spacingAndGlyphs">0. 4</text>
<text x="36.00" y="348.80" font-size="8.0" fill="#3e3e3e" text-anchor="end" textLength="11" lengthAdjust="spacingAndGlyphs">0. 4</text>
<text x="176.28" y="435.50" font-size="8.0" fill="#3e3e3e" text-anchor="middle" textLength="11" lengthAdjust="spacingAndGlyphs">0. 6</text>
<text x="36.00" y="317.90" font-size="8.0" fill="#3e3e3e" text-anchor="end" textLength="11" lengthAdjust="spacingAndGlyphs">0. 6</text>
<text x="214.84" y="435.50" font-size="8.0" fill="#3e3e3e" text-anchor="middle" textLength="11" lengthAdjust="spacingAndGlyphs">0. 8</text>
<text x="36.00" y="287.00" font-size="8.0" fill="#3e3e3e" text-anchor="end" textLength="11" lengthAdjust="spacingAndGlyphs">0. 8</text>
<text x="253.40" y="435.50" font-size="8.0" fill="#3e3e3e" text-anchor="middle" textLength="11" lengthAdjust="spacingAndGlyphs">1. 0</text>
<text x="36.00" y="256.10" font-size="8.0" fill="#3e3e3e" text-anchor="end" textLength="11" lengthAdjust="spacingAndGlyphs">1. 0</text>
<text x="147.00" y="447.80" font-size="10.2" fill="#111" stroke="#111" stroke-width="0.12" text-anchor="middle" textLength="56.1" lengthAdjust="spacingAndGlyphs">Node sub-index</text>
<text x="22.10" y="334.60" font-size="10.2" fill="#111" stroke="#111" stroke-width="0.12" text-anchor="middle" textLength="77.6" lengthAdjust="spacingAndGlyphs" transform="rotate(-90 22.10 334.60)">Convenience sub-index</text>
<line x1="346.30" y1="423.60" x2="346.30" y2="253.40" stroke="#d9d9d9" stroke-width="0.8"/>
<line x1="327.00" y1="407.70" x2="539.30" y2="407.70" stroke="#d9d9d9" stroke-width="0.8"/>
<line x1="365.60" y1="423.60" x2="365.60" y2="253.40" stroke="#f4f4f4" stroke-width="0.8"/>
<line x1="327.00" y1="392.27" x2="539.30" y2="392.27" stroke="#f4f4f4" stroke-width="0.8"/>
<line x1="384.90" y1="423.60" x2="384.90" y2="253.40" stroke="#d9d9d9" stroke-width="0.8"/>
<line x1="327.00" y1="376.84" x2="539.30" y2="376.84" stroke="#d9d9d9" stroke-width="0.8"/>
<line x1="404.20" y1="423.60" x2="404.20" y2="253.40" stroke="#f4f4f4" stroke-width="0.8"/>
<line x1="327.00" y1="361.41" x2="539.30" y2="361.41" stroke="#f4f4f4" stroke-width="0.8"/>
<line x1="423.50" y1="423.60" x2="423.50" y2="253.40" stroke="#d9d9d9" stroke-width="0.8"/>
<line x1="327.00" y1="345.98" x2="539.30" y2="345.98" stroke="#d9d9d9" stroke-width="0.8"/>
<line x1="442.80" y1="423.60" x2="442.80" y2="253.40" stroke="#f4f4f4" stroke-width="0.8"/>
<line x1="327.00" y1="330.55" x2="539.30" y2="330.55" stroke="#f4f4f4" stroke-width="0.8"/>
<line x1="462.10" y1="423.60" x2="462.10" y2="253.40" stroke="#d9d9d9" stroke-width="0.8"/>
<line x1="327.00" y1="315.12" x2="539.30" y2="315.12" stroke="#d9d9d9" stroke-width="0.8"/>
<line x1="481.40" y1="423.60" x2="481.40" y2="253.40" stroke="#f4f4f4" stroke-width="0.8"/>
<line x1="327.00" y1="299.69" x2="539.30" y2="299.69" stroke="#f4f4f4" stroke-width="0.8"/>
<line x1="500.70" y1="423.60" x2="500.70" y2="253.40" stroke="#d9d9d9" stroke-width="0.8"/>
<line x1="327.00" y1="284.26" x2="539.30" y2="284.26" stroke="#d9d9d9" stroke-width="0.8"/>
<line x1="520.00" y1="423.60" x2="520.00" y2="253.40" stroke="#f4f4f4" stroke-width="0.8"/>
<line x1="327.00" y1="268.83" x2="539.30" y2="268.83" stroke="#f4f4f4" stroke-width="0.8"/>
<line x1="327.00" y1="253.40" x2="327.00" y2="424.10" stroke="#3a3a3a" stroke-width="1"/>
<line x1="326.50" y1="423.60" x2="539.30" y2="423.60" stroke="#3a3a3a" stroke-width="1"/>
<line x1="346.30" y1="423.60" x2="346.30" y2="426.60" stroke="#3a3a3a" stroke-width="0.9"/>
<line x1="327.00" y1="407.70" x2="324.00" y2="407.70" stroke="#3a3a3a" stroke-width="0.9"/>
<line x1="365.60" y1="423.60" x2="365.60" y2="425.60" stroke="#3a3a3a" stroke-width="0.9"/>
<line x1="327.00" y1="392.27" x2="325.00" y2="392.27" stroke="#3a3a3a" stroke-width="0.9"/>
<line x1="384.90" y1="423.60" x2="384.90" y2="426.60" stroke="#3a3a3a" stroke-width="0.9"/>
<line x1="327.00" y1="376.84" x2="324.00" y2="376.84" stroke="#3a3a3a" stroke-width="0.9"/>
<line x1="404.20" y1="423.60" x2="404.20" y2="425.60" stroke="#3a3a3a" stroke-width="0.9"/>
<line x1="327.00" y1="361.41" x2="325.00" y2="361.41" stroke="#3a3a3a" stroke-width="0.9"/>
<line x1="423.50" y1="423.60" x2="423.50" y2="426.60" stroke="#3a3a3a" stroke-width="0.9"/>
<line x1="327.00" y1="345.98" x2="324.00" y2="345.98" stroke="#3a3a3a" stroke-width="0.9"/>
<line x1="442.80" y1="423.60" x2="442.80" y2="425.60" stroke="#3a3a3a" stroke-width="0.9"/>
<line x1="327.00" y1="330.55" x2="325.00" y2="330.55" stroke="#3a3a3a" stroke-width="0.9"/>
<line x1="462.10" y1="423.60" x2="462.10" y2="426.60" stroke="#3a3a3a" stroke-width="0.9"/>
<line x1="327.00" y1="315.12" x2="324.00" y2="315.12" stroke="#3a3a3a" stroke-width="0.9"/>
<line x1="481.40" y1="423.60" x2="481.40" y2="425.60" stroke="#3a3a3a" stroke-width="0.9"/>
<line x1="327.00" y1="299.69" x2="325.00" y2="299.69" stroke="#3a3a3a" stroke-width="0.9"/>
<line x1="500.70" y1="423.60" x2="500.70" y2="426.60" stroke="#3a3a3a" stroke-width="0.9"/>
<line x1="327.00" y1="284.26" x2="324.00" y2="284.26" stroke="#3a3a3a" stroke-width="0.9"/>
<line x1="520.00" y1="423.60" x2="520.00" y2="425.60" stroke="#3a3a3a" stroke-width="0.9"/>
<line x1="327.00" y1="268.83" x2="325.00" y2="268.83" stroke="#3a3a3a" stroke-width="0.9"/>
<line x1="539.30" y1="423.60" x2="539.30" y2="426.60" stroke="#3a3a3a" stroke-width="0.9"/>
<line x1="327.00" y1="253.40" x2="324.00" y2="253.40" stroke="#3a3a3a" stroke-width="0.9"/>
<line x1="327.00" y1="423.60" x2="327.00" y2="426.60" stroke="#3a3a3a" stroke-width="0.9"/>
<line x1="327.00" y1="423.60" x2="324.00" y2="423.60" stroke="#3a3a3a" stroke-width="0.9"/>
<text x="346.30" y="436.50" font-size="8.3" fill="#3e3e3e" text-anchor="middle" textLength="13.2" lengthAdjust="spacingAndGlyphs">0. 0</text>
<text x="321.80" y="410.60" font-size="8.3" fill="#3e3e3e" text-anchor="end" textLength="13.2" lengthAdjust="spacingAndGlyphs">0. 0</text>
<text x="384.90" y="436.50" font-size="8.3" fill="#3e3e3e" text-anchor="middle" textLength="13.2" lengthAdjust="spacingAndGlyphs">0. 2</text>
<text x="321.80" y="379.74" font-size="8.3" fill="#3e3e3e" text-anchor="end" textLength="13.2" lengthAdjust="spacingAndGlyphs">0. 2</text>
<text x="423.50" y="436.50" font-size="8.3" fill="#3e3e3e" text-anchor="middle" textLength="13.2" lengthAdjust="spacingAndGlyphs">0. 4</text>
<text x="321.80" y="348.88" font-size="8.3" fill="#3e3e3e" text-anchor="end" textLength="13.2" lengthAdjust="spacingAndGlyphs">0. 4</text>
<text x="462.10" y="436.50" font-size="8.3" fill="#3e3e3e" text-anchor="middle" textLength="13.2" lengthAdjust="spacingAndGlyphs">0. 6</text>
<text x="321.80" y="318.02" font-size="8.3" fill="#3e3e3e" text-anchor="end" textLength="13.2" lengthAdjust="spacingAndGlyphs">0. 6</text>
<text x="500.70" y="436.50" font-size="8.3" fill="#3e3e3e" text-anchor="middle" textLength="13.2" lengthAdjust="spacingAndGlyphs">0. 8</text>
<text x="321.80" y="287.16" font-size="8.3" fill="#3e3e3e" text-anchor="end" textLength="13.2" lengthAdjust="spacingAndGlyphs">0. 8</text>
<text x="539.30" y="436.50" font-size="8.3" fill="#3e3e3e" text-anchor="middle" textLength="13.2" lengthAdjust="spacingAndGlyphs">1. 0</text>
<text x="321.80" y="256.30" font-size="8.3" fill="#3e3e3e" text-anchor="end" textLength="13.2" lengthAdjust="spacingAndGlyphs">1. 0</text>
<text x="432.70" y="449.50" font-size="10.2" fill="#111" stroke="#111" stroke-width="0.12" text-anchor="middle" textLength="55.3" lengthAdjust="spacingAndGlyphs">Place sub-index</text>
<text x="307.30" y="335.00" font-size="10.2" fill="#111" stroke="#111" stroke-width="0.12" text-anchor="middle" textLength="77" lengthAdjust="spacingAndGlyphs" transform="rotate(-90 307.30 335.00)">Convenience sub-index</text>
<circle cx="396.4" cy="155.4" r="1.95" fill="#48cfd3"/>
<circle cx="423.6" cy="141.6" r="1.95" fill="#fde5bf"/>
<circle cx="413.0" cy="178.7" r="1.95" fill="#aaeed6"/>
<circle cx="434.1" cy="144.6" r="1.95" fill="#aaeed6"/>
<circle cx="439.0" cy="182.3" r="1.95" fill="#aaeed6"/>
<circle cx="412.1" cy="174.5" r="1.95" fill="#48cfd3"/>
<circle cx="387.5" cy="166.5" r="1.95" fill="#48cfd3"/>
<circle cx="406.4" cy="155.3" r="1.95" fill="#aaeed6"/>
<circle cx="454.3" cy="146.0" r="1.95" fill="#f8a446"/>
<circle cx="441.5" cy="154.5" r="1.95" fill="#aaeed6"/>
<circle cx="374.1" cy="178.9" r="1.95" fill="#4b88ca"/>
<circle cx="398.9" cy="162.8" r="1.95" fill="#48cfd3"/>
<circle cx="380.7" cy="150.8" r="1.95" fill="#4b88ca"/>
<circle cx="399.3" cy="155.6" r="1.95" fill="#48cfd3"/>
<circle cx="414.8" cy="182.9" r="1.95" fill="#48cfd3"/>
<circle cx="435.7" cy="143.8" r="1.95" fill="#aaeed6"/>
<circle cx="386.4" cy="173.3" r="1.95" fill="#4b88ca"/>
<circle cx="439.0" cy="123.0" r="1.95" fill="#fde5bf"/>
<circle cx="399.1" cy="179.4" r="1.95" fill="#48cfd3"/>
<circle cx="385.3" cy="165.8" r="1.95" fill="#4b88ca"/>
<circle cx="401.6" cy="153.7" r="1.95" fill="#48cfd3"/>
<circle cx="397.1" cy="181.4" r="1.95" fill="#48cfd3"/>
<circle cx="407.3" cy="140.0" r="1.95" fill="#fde5bf"/>
<circle cx="439.0" cy="103.6" r="1.95" fill="#f7756e"/>
<circle cx="414.5" cy="158.9" r="1.95" fill="#48cfd3"/>
<circle cx="412.2" cy="171.4" r="1.95" fill="#48cfd3"/>
<circle cx="512.0" cy="135.4" r="1.95" fill="#f8a446"/>
<circle cx="381.4" cy="162.9" r="1.95" fill="#48cfd3"/>
<circle cx="428.0" cy="143.4" r="1.95" fill="#aaeed6"/>
<circle cx="441.2" cy="123.0" r="1.95" fill="#fde5bf"/>
<circle cx="468.2" cy="124.1" r="1.95" fill="#f7756e"/>
<circle cx="465.3" cy="137.3" r="1.95" fill="#f8a446"/>
<circle cx="391.1" cy="166.7" r="1.95" fill="#48cfd3"/>
<circle cx="392.7" cy="144.6" r="1.95" fill="#48cfd3"/>
<circle cx="421.1" cy="172.2" r="1.95" fill="#48cfd3"/>
<circle cx="408.0" cy="175.1" r="1.95" fill="#48cfd3"/>
<circle cx="435.7" cy="171.3" r="1.95" fill="#aaeed6"/>
<circle cx="408.0" cy="157.7" r="1.95" fill="#48cfd3"/>
<circle cx="384.0" cy="178.3" r="1.95" fill="#4b88ca"/>
<circle cx="421.4" cy="178.1" r="1.95" fill="#48cfd3"/>
<circle cx="388.2" cy="171.9" r="1.95" fill="#48cfd3"/>
<circle cx="392.3" cy="177.7" r="1.95" fill="#48cfd3"/>
<circle cx="419.1" cy="166.6" r="1.95" fill="#aaeed6"/>
<circle cx="399.6" cy="142.8" r="1.95" fill="#fde5bf"/>
<circle cx="475.8" cy="89.9" r="1.95" fill="#f7756e"/>
<circle cx="416.4" cy="162.7" r="1.95" fill="#48cfd3"/>
<circle cx="423.5" cy="142.3" r="1.95" fill="#fde5bf"/>
<circle cx="371.3" cy="178.3" r="1.95" fill="#4b88ca"/>
<circle cx="411.3" cy="156.2" r="1.95" fill="#48cfd3"/>
<circle cx="425.8" cy="136.2" r="1.95" fill="#fde5bf"/>
<circle cx="382.5" cy="181.5" r="1.95" fill="#4b88ca"/>
<circle cx="441.0" cy="126.0" r="1.95" fill="#fde5bf"/>
<circle cx="434.3" cy="84.4" r="1.95" fill="#f7756e"/>
<circle cx="412.6" cy="108.7" r="1.95" fill="#fde5bf"/>
<circle cx="445.5" cy="136.2" r="1.95" fill="#fde5bf"/>
<circle cx="412.0" cy="163.0" r="1.95" fill="#aaeed6"/>
<circle cx="445.5" cy="150.4" r="1.95" fill="#f8a446"/>
<circle cx="410.3" cy="157.0" r="1.95" fill="#aaeed6"/>
<circle cx="425.9" cy="174.1" r="1.95" fill="#aaeed6"/>
<circle cx="403.8" cy="157.1" r="1.95" fill="#48cfd3"/>
<circle cx="446.6" cy="127.4" r="1.95" fill="#fde5bf"/>
<circle cx="436.6" cy="164.8" r="1.95" fill="#aaeed6"/>
<circle cx="398.8" cy="141.5" r="1.95" fill="#48cfd3"/>
<circle cx="442.3" cy="137.3" r="1.95" fill="#fde5bf"/>
<circle cx="410.3" cy="167.5" r="1.95" fill="#48cfd3"/>
<circle cx="373.1" cy="173.1" r="1.95" fill="#4b88ca"/>
<circle cx="401.7" cy="177.9" r="1.95" fill="#48cfd3"/>
<circle cx="388.0" cy="175.5" r="1.95" fill="#48cfd3"/>
<circle cx="435.5" cy="97.7" r="1.95" fill="#f7756e"/>
<circle cx="385.3" cy="131.5" r="1.95" fill="#48cfd3"/>
<circle cx="406.3" cy="142.2" r="1.95" fill="#aaeed6"/>
<circle cx="427.5" cy="123.4" r="1.95" fill="#fde5bf"/>
<circle cx="445.6" cy="142.2" r="1.95" fill="#f8a446"/>
<circle cx="404.4" cy="175.1" r="1.95" fill="#48cfd3"/>
<circle cx="412.1" cy="172.5" r="1.95" fill="#aaeed6"/>
<circle cx="409.5" cy="181.8" r="1.95" fill="#48cfd3"/>
<circle cx="412.9" cy="146.4" r="1.95" fill="#aaeed6"/>
<circle cx="408.2" cy="147.2" r="1.95" fill="#aaeed6"/>
<circle cx="399.4" cy="173.0" r="1.95" fill="#48cfd3"/>
<circle cx="391.2" cy="178.2" r="1.95" fill="#4b88ca"/>
<circle cx="405.8" cy="163.3" r="1.95" fill="#48cfd3"/>
<circle cx="396.7" cy="174.9" r="1.95" fill="#48cfd3"/>
<circle cx="421.4" cy="181.6" r="1.95" fill="#aaeed6"/>
<circle cx="380.7" cy="164.9" r="1.95" fill="#4b88ca"/>
<circle cx="431.3" cy="143.8" r="1.95" fill="#fde5bf"/>
<circle cx="396.3" cy="171.9" r="1.95" fill="#48cfd3"/>
<circle cx="420.9" cy="147.0" r="1.95" fill="#aaeed6"/>
<circle cx="493.8" cy="168.0" r="1.95" fill="#f8a446"/>
<circle cx="415.1" cy="176.1" r="1.95" fill="#48cfd3"/>
<circle cx="413.8" cy="168.1" r="1.95" fill="#aaeed6"/>
<circle cx="395.1" cy="169.2" r="1.95" fill="#48cfd3"/>
<circle cx="416.5" cy="168.3" r="1.95" fill="#48cfd3"/>
<circle cx="351.9" cy="181.5" r="1.95" fill="#4b88ca"/>
<circle cx="448.8" cy="139.5" r="1.95" fill="#f8a446"/>
<circle cx="388.8" cy="155.4" r="1.95" fill="#48cfd3"/>
<circle cx="387.5" cy="180.5" r="1.95" fill="#4b88ca"/>
<circle cx="395.5" cy="144.3" r="1.95" fill="#48cfd3"/>
<circle cx="430.7" cy="146.6" r="1.95" fill="#aaeed6"/>
<circle cx="458.7" cy="161.4" r="1.95" fill="#f8a446"/>
<circle cx="457.6" cy="149.3" r="1.95" fill="#f8a446"/>
<circle cx="381.4" cy="166.8" r="1.95" fill="#48cfd3"/>
<circle cx="402.0" cy="171.9" r="1.95" fill="#48cfd3"/>
<circle cx="473.0" cy="150.4" r="1.95" fill="#f8a446"/>
<circle cx="428.0" cy="137.3" r="1.95" fill="#fde5bf"/>
<circle cx="399.4" cy="141.6" r="1.95" fill="#fde5bf"/>
<circle cx="429.8" cy="156.7" r="1.95" fill="#aaeed6"/>
<circle cx="434.8" cy="171.2" r="1.95" fill="#aaeed6"/>
<circle cx="439.0" cy="148.9" r="1.95" fill="#f8a446"/>
<circle cx="398.1" cy="122.3" r="1.95" fill="#fde5bf"/>
<circle cx="440.5" cy="121.5" r="1.95" fill="#fde5bf"/>
<circle cx="452.1" cy="147.1" r="1.95" fill="#f8a446"/>
<circle cx="438.0" cy="148.5" r="1.95" fill="#f8a446"/>
<circle cx="410.2" cy="142.6" r="1.95" fill="#aaeed6"/>
<circle cx="380.0" cy="174.6" r="1.95" fill="#4b88ca"/>
<circle cx="418.4" cy="165.6" r="1.95" fill="#48cfd3"/>
<circle cx="450.0" cy="166.5" r="1.95" fill="#f8a446"/>
<circle cx="408.4" cy="151.3" r="1.95" fill="#aaeed6"/>
<circle cx="432.9" cy="110.4" r="1.95" fill="#fde5bf"/>
<circle cx="460.9" cy="74.4" r="1.95" fill="#f7756e"/>
<circle cx="402.8" cy="182.2" r="1.95" fill="#48cfd3"/>
<circle cx="453.2" cy="159.9" r="1.95" fill="#f8a446"/>
<circle cx="419.2" cy="181.0" r="1.95" fill="#48cfd3"/>
<circle cx="395.1" cy="178.5" r="1.95" fill="#48cfd3"/>
<circle cx="375.5" cy="168.9" r="1.95" fill="#4b88ca"/>
<circle cx="447.7" cy="149.8" r="1.95" fill="#f8a446"/>
<circle cx="418.5" cy="181.3" r="1.95" fill="#aaeed6"/>
<circle cx="416.6" cy="173.4" r="1.95" fill="#aaeed6"/>
<circle cx="415.4" cy="157.0" r="1.95" fill="#aaeed6"/>
<circle cx="421.3" cy="141.4" r="1.95" fill="#aaeed6"/>
<circle cx="418.4" cy="152.5" r="1.95" fill="#aaeed6"/>
<circle cx="452.1" cy="139.5" r="1.95" fill="#f8a446"/>
<circle cx="432.4" cy="142.7" r="1.95" fill="#f8a446"/>
<circle cx="430.7" cy="170.5" r="1.95" fill="#aaeed6"/>
<circle cx="397.2" cy="165.1" r="1.95" fill="#48cfd3"/>
<circle cx="387.1" cy="177.1" r="1.95" fill="#4b88ca"/>
<circle cx="476.9" cy="161.8" r="1.95" fill="#f8a446"/>
<circle cx="398.1" cy="159.9" r="1.95" fill="#48cfd3"/>
<circle cx="380.7" cy="177.5" r="1.95" fill="#4b88ca"/>
<circle cx="416.8" cy="171.8" r="1.95" fill="#48cfd3"/>
<circle cx="407.1" cy="139.5" r="1.95" fill="#fde5bf"/>
<circle cx="414.6" cy="180.0" r="1.95" fill="#48cfd3"/>
<circle cx="369.7" cy="181.1" r="1.95" fill="#4b88ca"/>
<circle cx="367.4" cy="182.6" r="1.95" fill="#4b88ca"/>
<circle cx="418.1" cy="177.1" r="1.95" fill="#48cfd3"/>
<circle cx="409.3" cy="177.9" r="1.95" fill="#48cfd3"/>
<circle cx="384.7" cy="164.4" r="1.95" fill="#48cfd3"/>
<circle cx="407.0" cy="162.0" r="1.95" fill="#aaeed6"/>
<circle cx="408.5" cy="161.6" r="1.95" fill="#48cfd3"/>
<circle cx="411.6" cy="159.6" r="1.95" fill="#48cfd3"/>
<circle cx="425.9" cy="149.1" r="1.95" fill="#aaeed6"/>
<circle cx="390.7" cy="174.4" r="1.95" fill="#48cfd3"/>
<circle cx="376.9" cy="182.4" r="1.95" fill="#4b88ca"/>
<circle cx="415.3" cy="165.5" r="1.95" fill="#48cfd3"/>
<circle cx="449.4" cy="139.6" r="1.95" fill="#f8a446"/>
<circle cx="408.9" cy="164.6" r="1.95" fill="#48cfd3"/>
<circle cx="433.5" cy="109.8" r="1.95" fill="#fde5bf"/>
<circle cx="392.4" cy="164.1" r="1.95" fill="#48cfd3"/>
<circle cx="459.1" cy="116.9" r="1.95" fill="#f7756e"/>
<circle cx="416.1" cy="163.4" r="1.95" fill="#aaeed6"/>
<circle cx="432.7" cy="110.3" r="1.95" fill="#fde5bf"/>
<circle cx="372.6" cy="182.6" r="1.95" fill="#4b88ca"/>
<circle cx="402.8" cy="145.4" r="1.95" fill="#aaeed6"/>
<circle cx="430.2" cy="174.5" r="1.95" fill="#aaeed6"/>
<circle cx="474.1" cy="151.5" r="1.95" fill="#f8a446"/>
<circle cx="464.2" cy="152.6" r="1.95" fill="#f8a446"/>
<circle cx="367.9" cy="179.7" r="1.95" fill="#4b88ca"/>
<circle cx="405.2" cy="171.3" r="1.95" fill="#48cfd3"/>
<circle cx="373.5" cy="161.3" r="1.95" fill="#48cfd3"/>
<circle cx="408.2" cy="124.7" r="1.95" fill="#fde5bf"/>
<circle cx="455.4" cy="128.5" r="1.95" fill="#f8a446"/>
<circle cx="415.8" cy="170.8" r="1.95" fill="#48cfd3"/>
<circle cx="389.6" cy="145.4" r="1.95" fill="#48cfd3"/>
<circle cx="490.8" cy="134.5" r="1.95" fill="#f8a446"/>
<circle cx="404.3" cy="149.2" r="1.95" fill="#aaeed6"/>
<circle cx="389.3" cy="161.4" r="1.95" fill="#48cfd3"/>
<circle cx="411.5" cy="139.5" r="1.95" fill="#fde5bf"/>
<circle cx="411.6" cy="179.8" r="1.95" fill="#48cfd3"/>
<circle cx="451.0" cy="134.0" r="1.95" fill="#f8a446"/>
<circle cx="432.7" cy="165.0" r="1.95" fill="#aaeed6"/>
<circle cx="419.2" cy="126.3" r="1.95" fill="#fde5bf"/>
<circle cx="376.5" cy="179.0" r="1.95" fill="#4b88ca"/>
<circle cx="442.3" cy="150.4" r="1.95" fill="#f8a446"/>
<circle cx="394.8" cy="162.3" r="1.95" fill="#48cfd3"/>
<circle cx="435.7" cy="136.2" r="1.95" fill="#fde5bf"/>
<circle cx="373.4" cy="175.7" r="1.95" fill="#4b88ca"/>
<circle cx="455.4" cy="159.2" r="1.95" fill="#f8a446"/>
<circle cx="489.2" cy="59.0" r="1.95" fill="#f7756e"/>
<circle cx="410.4" cy="121.5" r="1.95" fill="#fde5bf"/>
<circle cx="449.5" cy="125.0" r="1.95" fill="#fde5bf"/>
<circle cx="375.5" cy="171.1" r="1.95" fill="#4b88ca"/>
<circle cx="443.0" cy="98.2" r="1.95" fill="#f7756e"/>
<circle cx="406.0" cy="154.3" r="1.95" fill="#48cfd3"/>
<circle cx="431.2" cy="151.0" r="1.95" fill="#aaeed6"/>
<circle cx="409.3" cy="120.8" r="1.95" fill="#fde5bf"/>
<circle cx="460.9" cy="151.5" r="1.95" fill="#f8a446"/>
<circle cx="418.7" cy="174.1" r="1.95" fill="#48cfd3"/>
<circle cx="381.6" cy="171.8" r="1.95" fill="#4b88ca"/>
<circle cx="433.7" cy="160.4" r="1.95" fill="#aaeed6"/>
<circle cx="402.5" cy="168.2" r="1.95" fill="#48cfd3"/>
<circle cx="418.1" cy="130.7" r="1.95" fill="#fde5bf"/>
<circle cx="422.2" cy="171.7" r="1.95" fill="#aaeed6"/>
<circle cx="430.2" cy="131.8" r="1.95" fill="#fde5bf"/>
<circle cx="385.0" cy="180.6" r="1.95" fill="#4b88ca"/>
<circle cx="377.0" cy="175.2" r="1.95" fill="#4b88ca"/>
<circle cx="416.9" cy="148.5" r="1.95" fill="#aaeed6"/>
<circle cx="444.6" cy="156.3" r="1.95" fill="#aaeed6"/>
<circle cx="379.8" cy="182.5" r="1.95" fill="#4b88ca"/>
<circle cx="426.5" cy="123.1" r="1.95" fill="#fde5bf"/>
<circle cx="434.5" cy="155.2" r="1.95" fill="#aaeed6"/>
<circle cx="378.8" cy="180.4" r="1.95" fill="#4b88ca"/>
<circle cx="382.7" cy="175.7" r="1.95" fill="#4b88ca"/>
<circle cx="443.5" cy="131.5" r="1.95" fill="#fde5bf"/>
<circle cx="417.3" cy="174.6" r="1.95" fill="#48cfd3"/>
<circle cx="416.0" cy="144.0" r="1.95" fill="#aaeed6"/>
<circle cx="388.2" cy="157.7" r="1.95" fill="#48cfd3"/>
<circle cx="420.4" cy="162.1" r="1.95" fill="#aaeed6"/>
<circle cx="419.6" cy="169.3" r="1.95" fill="#48cfd3"/>
<circle cx="440.1" cy="134.0" r="1.95" fill="#fde5bf"/>
<circle cx="462.4" cy="102.8" r="1.95" fill="#f7756e"/>
<circle cx="385.3" cy="144.6" r="1.95" fill="#48cfd3"/>
<circle cx="436.6" cy="105.2" r="1.95" fill="#f7756e"/>
<circle cx="398.4" cy="167.9" r="1.95" fill="#48cfd3"/>
<circle cx="426.8" cy="170.0" r="1.95" fill="#aaeed6"/>
<circle cx="405.7" cy="159.7" r="1.95" fill="#48cfd3"/>
<circle cx="391.8" cy="155.8" r="1.95" fill="#48cfd3"/>
<circle cx="448.8" cy="169.1" r="1.95" fill="#aaeed6"/>
<circle cx="465.3" cy="141.6" r="1.95" fill="#f8a446"/>
<circle cx="391.2" cy="153.1" r="1.95" fill="#48cfd3"/>
<circle cx="417.0" cy="124.1" r="1.95" fill="#fde5bf"/>
<circle cx="398.1" cy="163.5" r="1.95" fill="#4b88ca"/>
<circle cx="418.1" cy="116.4" r="1.95" fill="#fde5bf"/>
<circle cx="404.9" cy="115.3" r="1.95" fill="#fde5bf"/>
<circle cx="444.5" cy="134.0" r="1.95" fill="#fde5bf"/>
<circle cx="394.2" cy="148.5" r="1.95" fill="#48cfd3"/>
<circle cx="385.1" cy="159.8" r="1.95" fill="#48cfd3"/>
<circle cx="408.9" cy="166.6" r="1.95" fill="#aaeed6"/>
<circle cx="412.7" cy="140.0" r="1.95" fill="#fde5bf"/>
<circle cx="453.2" cy="168.0" r="1.95" fill="#f8a446"/>
<circle cx="391.8" cy="169.8" r="1.95" fill="#48cfd3"/>
<circle cx="447.7" cy="123.0" r="1.95" fill="#fde5bf"/>
<circle cx="495.4" cy="118.5" r="1.95" fill="#f7756e"/>
<circle cx="412.7" cy="152.6" r="1.95" fill="#aaeed6"/>
<circle cx="436.9" cy="147.7" r="1.95" fill="#aaeed6"/>
<circle cx="408.6" cy="171.7" r="1.95" fill="#48cfd3"/>
<circle cx="466.6" cy="113.6" r="1.95" fill="#f7756e"/>
<circle cx="402.7" cy="113.1" r="1.95" fill="#fde5bf"/>
<circle cx="423.0" cy="153.8" r="1.95" fill="#aaeed6"/>
<circle cx="431.3" cy="136.2" r="1.95" fill="#fde5bf"/>
<circle cx="421.5" cy="178.1" r="1.95" fill="#aaeed6"/>
<circle cx="379.2" cy="171.4" r="1.95" fill="#4b88ca"/>
<circle cx="413.2" cy="162.6" r="1.95" fill="#48cfd3"/>
<circle cx="425.1" cy="166.5" r="1.95" fill="#aaeed6"/>
<circle cx="384.9" cy="183.1" r="1.95" fill="#4b88ca"/>
<circle cx="429.1" cy="166.8" r="1.95" fill="#aaeed6"/>
<circle cx="390.4" cy="127.7" r="1.95" fill="#fde5bf"/>
<circle cx="393.5" cy="174.9" r="1.95" fill="#48cfd3"/>
<circle cx="405.6" cy="167.6" r="1.95" fill="#48cfd3"/>
<circle cx="445.5" cy="141.6" r="1.95" fill="#f8a446"/>
<circle cx="376.5" cy="158.5" r="1.95" fill="#4b88ca"/>
<circle cx="427.6" cy="161.3" r="1.95" fill="#aaeed6"/>
<circle cx="477.5" cy="115.1" r="1.95" fill="#f7756e"/>
<circle cx="401.7" cy="159.9" r="1.95" fill="#48cfd3"/>
<circle cx="421.8" cy="158.3" r="1.95" fill="#aaeed6"/>
<circle cx="394.2" cy="166.4" r="1.95" fill="#48cfd3"/>
<circle cx="402.7" cy="153.6" r="1.95" fill="#aaeed6"/>
<circle cx="417.0" cy="137.3" r="1.95" fill="#fde5bf"/>
<circle cx="393.4" cy="181.3" r="1.95" fill="#48cfd3"/>
<circle cx="370.3" cy="175.4" r="1.95" fill="#4b88ca"/>
<circle cx="398.3" cy="121.9" r="1.95" fill="#fde5bf"/>
<circle cx="383.8" cy="173.1" r="1.95" fill="#4b88ca"/>
<circle cx="440.6" cy="155.4" r="1.95" fill="#aaeed6"/>
<circle cx="439.3" cy="150.9" r="1.95" fill="#aaeed6"/>
<circle cx="420.3" cy="129.6" r="1.95" fill="#fde5bf"/>
<circle cx="439.6" cy="161.1" r="1.95" fill="#aaeed6"/>
<circle cx="427.5" cy="152.8" r="1.95" fill="#aaeed6"/>
<circle cx="482.4" cy="106.0" r="1.95" fill="#f7756e"/>
<circle cx="454.0" cy="111.3" r="1.95" fill="#f7756e"/>
<circle cx="411.5" cy="125.2" r="1.95" fill="#fde5bf"/>
<circle cx="406.6" cy="180.4" r="1.95" fill="#48cfd3"/>
<circle cx="383.6" cy="169.8" r="1.95" fill="#48cfd3"/>
<circle cx="401.6" cy="164.8" r="1.95" fill="#48cfd3"/>
<circle cx="417.5" cy="140.1" r="1.95" fill="#aaeed6"/>
<circle cx="413.0" cy="168.3" r="1.95" fill="#48cfd3"/>
<circle cx="390.7" cy="180.1" r="1.95" fill="#48cfd3"/>
<circle cx="444.5" cy="155.9" r="1.95" fill="#aaeed6"/>
<circle cx="385.8" cy="173.5" r="1.95" fill="#48cfd3"/>
<circle cx="393.2" cy="158.3" r="1.95" fill="#48cfd3"/>
<circle cx="444.0" cy="129.0" r="1.95" fill="#fde5bf"/>
<circle cx="446.2" cy="115.9" r="1.95" fill="#f7756e"/>
<circle cx="130.3" cy="317.5" r="1.95" fill="#aaeed6"/>
<circle cx="145.2" cy="338.9" r="1.95" fill="#aaeed6"/>
<circle cx="122.3" cy="310.3" r="1.95" fill="#fde5bf"/>
<circle cx="89.8" cy="382.9" r="1.95" fill="#4b88ca"/>
<circle cx="121.4" cy="332.2" r="1.95" fill="#aaeed6"/>
<circle cx="171.1" cy="326.2" r="1.95" fill="#f8a446"/>
<circle cx="151.4" cy="333.6" r="1.95" fill="#fde5bf"/>
<circle cx="205.5" cy="297.8" r="1.95" fill="#f8a446"/>
<circle cx="112.7" cy="321.6" r="1.95" fill="#aaeed6"/>
<circle cx="100.6" cy="346.0" r="1.95" fill="#48cfd3"/>
<circle cx="102.5" cy="367.9" r="1.95" fill="#4b88ca"/>
<circle cx="173.5" cy="322.7" r="1.95" fill="#f7756e"/>
<circle cx="120.4" cy="317.9" r="1.95" fill="#aaeed6"/>
<circle cx="116.6" cy="319.5" r="1.95" fill="#aaeed6"/>
<circle cx="145.8" cy="312.3" r="1.95" fill="#fde5bf"/>
<circle cx="96.7" cy="364.4" r="1.95" fill="#4b88ca"/>
<circle cx="131.2" cy="315.4" r="1.95" fill="#fde5bf"/>
<circle cx="157.7" cy="311.5" r="1.95" fill="#f7756e"/>
<circle cx="183.2" cy="309.6" r="1.95" fill="#f7756e"/>
<circle cx="92.9" cy="367.0" r="1.95" fill="#4b88ca"/>
<circle cx="118.7" cy="331.8" r="1.95" fill="#48cfd3"/>
<circle cx="150.1" cy="331.1" r="1.95" fill="#aaeed6"/>
<circle cx="113.6" cy="344.5" r="1.95" fill="#48cfd3"/>
<circle cx="155.0" cy="323.1" r="1.95" fill="#fde5bf"/>
<circle cx="128.5" cy="321.1" r="1.95" fill="#aaeed6"/>
<circle cx="181.4" cy="304.0" r="1.95" fill="#f7756e"/>
<circle cx="147.3" cy="333.9" r="1.95" fill="#aaeed6"/>
<circle cx="140.5" cy="320.9" r="1.95" fill="#fde5bf"/>
<circle cx="141.9" cy="307.3" r="1.95" fill="#fde5bf"/>
<circle cx="103.8" cy="354.1" r="1.95" fill="#48cfd3"/>
<circle cx="159.2" cy="337.5" r="1.95" fill="#aaeed6"/>
<circle cx="87.7" cy="350.6" r="1.95" fill="#4b88ca"/>
<circle cx="122.8" cy="340.8" r="1.95" fill="#48cfd3"/>
<circle cx="159.2" cy="311.1" r="1.95" fill="#f8a446"/>
<circle cx="94.9" cy="371.4" r="1.95" fill="#4b88ca"/>
<circle cx="158.8" cy="326.9" r="1.95" fill="#f8a446"/>
<circle cx="102.7" cy="344.4" r="1.95" fill="#48cfd3"/>
<circle cx="82.7" cy="372.3" r="1.95" fill="#4b88ca"/>
<circle cx="146.8" cy="294.5" r="1.95" fill="#f8a446"/>
<circle cx="143.0" cy="319.1" r="1.95" fill="#aaeed6"/>
<circle cx="99.5" cy="346.2" r="1.95" fill="#48cfd3"/>
<circle cx="125.9" cy="351.5" r="1.95" fill="#48cfd3"/>
<circle cx="189.2" cy="328.5" r="1.95" fill="#f8a446"/>
<circle cx="88.6" cy="347.3" r="1.95" fill="#4b88ca"/>
<circle cx="92.2" cy="344.5" r="1.95" fill="#4b88ca"/>
<circle cx="94.5" cy="382.7" r="1.95" fill="#4b88ca"/>
<circle cx="124.9" cy="344.6" r="1.95" fill="#48cfd3"/>
<circle cx="113.6" cy="330.1" r="1.95" fill="#48cfd3"/>
<circle cx="90.4" cy="376.8" r="1.95" fill="#4b88ca"/>
<circle cx="131.9" cy="312.3" r="1.95" fill="#fde5bf"/>
<circle cx="118.0" cy="324.8" r="1.95" fill="#aaeed6"/>
<circle cx="162.3" cy="333.3" r="1.95" fill="#f8a446"/>
<circle cx="132.4" cy="339.4" r="1.95" fill="#aaeed6"/>
<circle cx="175.0" cy="300.0" r="1.95" fill="#f7756e"/>
<circle cx="134.9" cy="330.3" r="1.95" fill="#aaeed6"/>
<circle cx="103.9" cy="357.7" r="1.95" fill="#4b88ca"/>
<circle cx="148.3" cy="318.6" r="1.95" fill="#aaeed6"/>
<circle cx="187.7" cy="313.6" r="1.95" fill="#f8a446"/>
<circle cx="111.2" cy="354.5" r="1.95" fill="#48cfd3"/>
<circle cx="163.7" cy="338.7" r="1.95" fill="#aaeed6"/>
<circle cx="171.1" cy="315.6" r="1.95" fill="#f8a446"/>
<circle cx="142.1" cy="306.4" r="1.95" fill="#fde5bf"/>
<circle cx="170.5" cy="326.4" r="1.95" fill="#f8a446"/>
<circle cx="80.9" cy="394.0" r="1.95" fill="#4b88ca"/>
<circle cx="146.1" cy="342.5" r="1.95" fill="#aaeed6"/>
<circle cx="155.8" cy="351.2" r="1.95" fill="#aaeed6"/>
<circle cx="117.9" cy="352.9" r="1.95" fill="#48cfd3"/>
<circle cx="159.5" cy="338.2" r="1.95" fill="#aaeed6"/>
<circle cx="98.1" cy="335.0" r="1.95" fill="#48cfd3"/>
<circle cx="146.0" cy="313.0" r="1.95" fill="#fde5bf"/>
<circle cx="95.7" cy="361.1" r="1.95" fill="#4b88ca"/>
<circle cx="98.2" cy="371.8" r="1.95" fill="#4b88ca"/>
<circle cx="117.8" cy="354.5" r="1.95" fill="#48cfd3"/>
<circle cx="158.6" cy="322.7" r="1.95" fill="#fde5bf"/>
<circle cx="103.9" cy="349.7" r="1.95" fill="#48cfd3"/>
<circle cx="133.5" cy="326.9" r="1.95" fill="#fde5bf"/>
<circle cx="117.6" cy="347.3" r="1.95" fill="#48cfd3"/>
<circle cx="110.4" cy="322.2" r="1.95" fill="#48cfd3"/>
<circle cx="97.4" cy="353.8" r="1.95" fill="#4b88ca"/>
<circle cx="122.4" cy="354.7" r="1.95" fill="#48cfd3"/>
<circle cx="100.5" cy="349.2" r="1.95" fill="#4b88ca"/>
<circle cx="93.2" cy="359.1" r="1.95" fill="#4b88ca"/>
<circle cx="88.5" cy="368.6" r="1.95" fill="#4b88ca"/>
<circle cx="110.0" cy="343.1" r="1.95" fill="#48cfd3"/>
<circle cx="155.0" cy="311.8" r="1.95" fill="#fde5bf"/>
<circle cx="96.7" cy="350.2" r="1.95" fill="#4b88ca"/>
<circle cx="114.3" cy="352.8" r="1.95" fill="#48cfd3"/>
<circle cx="146.0" cy="351.2" r="1.95" fill="#aaeed6"/>
<circle cx="115.5" cy="350.4" r="1.95" fill="#48cfd3"/>
<circle cx="128.8" cy="344.6" r="1.95" fill="#48cfd3"/>
<circle cx="90.6" cy="340.7" r="1.95" fill="#4b88ca"/>
<circle cx="120.5" cy="343.5" r="1.95" fill="#48cfd3"/>
<circle cx="125.4" cy="347.1" r="1.95" fill="#48cfd3"/>
<circle cx="106.3" cy="337.0" r="1.95" fill="#48cfd3"/>
<circle cx="95.8" cy="338.0" r="1.95" fill="#48cfd3"/>
<circle cx="88.7" cy="364.1" r="1.95" fill="#4b88ca"/>
<circle cx="165.0" cy="309.6" r="1.95" fill="#f8a446"/>
<circle cx="157.7" cy="323.6" r="1.95" fill="#fde5bf"/>
<circle cx="172.3" cy="315.1" r="1.95" fill="#f8a446"/>
<circle cx="179.5" cy="310.9" r="1.95" fill="#f8a446"/>
<circle cx="143.7" cy="330.4" r="1.95" fill="#aaeed6"/>
<circle cx="132.8" cy="305.1" r="1.95" fill="#fde5bf"/>
<circle cx="91.9" cy="388.2" r="1.95" fill="#4b88ca"/>
<circle cx="168.6" cy="316.9" r="1.95" fill="#f7756e"/>
<circle cx="159.2" cy="326.2" r="1.95" fill="#f8a446"/>
<circle cx="157.9" cy="316.9" r="1.95" fill="#f7756e"/>
<circle cx="111.6" cy="353.2" r="1.95" fill="#48cfd3"/>
<circle cx="104.1" cy="347.7" r="1.95" fill="#48cfd3"/>
<circle cx="121.9" cy="309.2" r="1.95" fill="#aaeed6"/>
<circle cx="106.4" cy="350.6" r="1.95" fill="#48cfd3"/>
<circle cx="134.2" cy="349.9" r="1.95" fill="#48cfd3"/>
<circle cx="104.4" cy="335.6" r="1.95" fill="#48cfd3"/>
<circle cx="155.9" cy="318.7" r="1.95" fill="#f8a446"/>
<circle cx="156.6" cy="316.9" r="1.95" fill="#f8a446"/>
<circle cx="179.5" cy="296.4" r="1.95" fill="#f8a446"/>
<circle cx="119.6" cy="329.2" r="1.95" fill="#48cfd3"/>
<circle cx="119.4" cy="340.5" r="1.95" fill="#48cfd3"/>
<circle cx="98.5" cy="371.0" r="1.95" fill="#4b88ca"/>
<circle cx="155.3" cy="326.2" r="1.95" fill="#fde5bf"/>
<circle cx="147.4" cy="323.8" r="1.95" fill="#aaeed6"/>
<circle cx="130.6" cy="331.7" r="1.95" fill="#aaeed6"/>
<circle cx="160.5" cy="319.6" r="1.95" fill="#f8a446"/>
<circle cx="163.2" cy="326.2" r="1.95" fill="#fde5bf"/>
<circle cx="118.5" cy="329.4" r="1.95" fill="#aaeed6"/>
<circle cx="88.0" cy="338.6" r="1.95" fill="#48cfd3"/>
<circle cx="122.7" cy="310.8" r="1.95" fill="#fde5bf"/>
<circle cx="81.4" cy="392.1" r="1.95" fill="#4b88ca"/>
<circle cx="165.9" cy="321.3" r="1.95" fill="#f8a446"/>
<circle cx="118.8" cy="315.4" r="1.95" fill="#fde5bf"/>
<circle cx="163.2" cy="309.0" r="1.95" fill="#f8a446"/>
<circle cx="99.3" cy="362.9" r="1.95" fill="#4b88ca"/>
<circle cx="98.4" cy="334.6" r="1.95" fill="#48cfd3"/>
<circle cx="115.0" cy="322.3" r="1.95" fill="#fde5bf"/>
<circle cx="83.2" cy="364.7" r="1.95" fill="#4b88ca"/>
<circle cx="128.5" cy="342.1" r="1.95" fill="#48cfd3"/>
<circle cx="102.6" cy="351.2" r="1.95" fill="#48cfd3"/>
<circle cx="115.6" cy="342.4" r="1.95" fill="#48cfd3"/>
<circle cx="90.9" cy="370.5" r="1.95" fill="#4b88ca"/>
<circle cx="94.7" cy="352.8" r="1.95" fill="#4b88ca"/>
<circle cx="140.0" cy="329.7" r="1.95" fill="#aaeed6"/>
<circle cx="126.5" cy="337.4" r="1.95" fill="#48cfd3"/>
<circle cx="137.7" cy="338.2" r="1.95" fill="#fde5bf"/>
<circle cx="135.8" cy="343.8" r="1.95" fill="#aaeed6"/>
<circle cx="168.5" cy="331.5" r="1.95" fill="#f8a446"/>
<circle cx="100.4" cy="349.5" r="1.95" fill="#48cfd3"/>
<circle cx="161.9" cy="332.8" r="1.95" fill="#f8a446"/>
<circle cx="160.5" cy="328.8" r="1.95" fill="#f8a446"/>
<circle cx="158.1" cy="321.5" r="1.95" fill="#fde5bf"/>
<circle cx="123.8" cy="334.2" r="1.95" fill="#48cfd3"/>
<circle cx="98.7" cy="342.8" r="1.95" fill="#48cfd3"/>
<circle cx="159.5" cy="327.3" r="1.95" fill="#f8a446"/>
<circle cx="102.7" cy="353.3" r="1.95" fill="#4b88ca"/>
<circle cx="160.5" cy="329.6" r="1.95" fill="#f8a446"/>
<circle cx="113.0" cy="366.5" r="1.95" fill="#4b88ca"/>
<circle cx="109.1" cy="358.6" r="1.95" fill="#4b88ca"/>
<circle cx="132.8" cy="336.7" r="1.95" fill="#fde5bf"/>
<circle cx="98.8" cy="368.3" r="1.95" fill="#4b88ca"/>
<circle cx="160.8" cy="312.7" r="1.95" fill="#f7756e"/>
<circle cx="141.2" cy="344.2" r="1.95" fill="#aaeed6"/>
<circle cx="138.9" cy="318.2" r="1.95" fill="#aaeed6"/>
<circle cx="149.5" cy="341.8" r="1.95" fill="#aaeed6"/>
<circle cx="85.0" cy="385.0" r="1.95" fill="#4b88ca"/>
<circle cx="120.5" cy="350.7" r="1.95" fill="#48cfd3"/>
<circle cx="168.3" cy="331.5" r="1.95" fill="#f8a446"/>
<circle cx="106.5" cy="356.5" r="1.95" fill="#4b88ca"/>
<circle cx="108.8" cy="343.9" r="1.95" fill="#48cfd3"/>
<circle cx="133.7" cy="334.6" r="1.95" fill="#aaeed6"/>
<circle cx="99.0" cy="357.5" r="1.95" fill="#4b88ca"/>
<circle cx="86.7" cy="353.3" r="1.95" fill="#4b88ca"/>
<circle cx="128.9" cy="351.2" r="1.95" fill="#48cfd3"/>
<circle cx="108.6" cy="349.1" r="1.95" fill="#48cfd3"/>
<circle cx="153.5" cy="316.9" r="1.95" fill="#f7756e"/>
<circle cx="138.5" cy="333.4" r="1.95" fill="#aaeed6"/>
<circle cx="101.3" cy="360.9" r="1.95" fill="#4b88ca"/>
<circle cx="127.3" cy="323.1" r="1.95" fill="#fde5bf"/>
<circle cx="90.8" cy="355.6" r="1.95" fill="#4b88ca"/>
<circle cx="166.3" cy="318.7" r="1.95" fill="#f8a446"/>
<circle cx="135.8" cy="351.5" r="1.95" fill="#48cfd3"/>
<circle cx="163.5" cy="338.9" r="1.95" fill="#aaeed6"/>
<circle cx="107.6" cy="331.9" r="1.95" fill="#48cfd3"/>
<circle cx="83.3" cy="369.6" r="1.95" fill="#4b88ca"/>
<circle cx="122.3" cy="315.6" r="1.95" fill="#fde5bf"/>
<circle cx="140.9" cy="325.6" r="1.95" fill="#aaeed6"/>
<circle cx="191.7" cy="304.5" r="1.95" fill="#f8a446"/>
<circle cx="140.3" cy="321.7" r="1.95" fill="#aaeed6"/>
<circle cx="81.9" cy="374.2" r="1.95" fill="#4b88ca"/>
<circle cx="124.1" cy="299.8" r="1.95" fill="#aaeed6"/>
<circle cx="110.6" cy="334.7" r="1.95" fill="#48cfd3"/>
<circle cx="93.6" cy="349.4" r="1.95" fill="#4b88ca"/>
<circle cx="82.7" cy="396.1" r="1.95" fill="#4b88ca"/>
<circle cx="110.4" cy="361.8" r="1.95" fill="#4b88ca"/>
<circle cx="119.6" cy="357.8" r="1.95" fill="#48cfd3"/>
<circle cx="226.8" cy="312.2" r="1.95" fill="#f8a446"/>
<circle cx="118.2" cy="333.2" r="1.95" fill="#48cfd3"/>
<circle cx="187.7" cy="328.5" r="1.95" fill="#f8a446"/>
<circle cx="136.1" cy="338.4" r="1.95" fill="#aaeed6"/>
<circle cx="132.7" cy="359.2" r="1.95" fill="#48cfd3"/>
<circle cx="95.9" cy="367.7" r="1.95" fill="#4b88ca"/>
<circle cx="148.3" cy="327.9" r="1.95" fill="#aaeed6"/>
<circle cx="113.3" cy="325.9" r="1.95" fill="#aaeed6"/>
<circle cx="111.8" cy="346.2" r="1.95" fill="#48cfd3"/>
<circle cx="133.1" cy="320.1" r="1.95" fill="#aaeed6"/>
<circle cx="174.1" cy="311.5" r="1.95" fill="#f8a446"/>
<circle cx="190.5" cy="287.3" r="1.95" fill="#f7756e"/>
<circle cx="150.0" cy="331.5" r="1.95" fill="#f8a446"/>
<circle cx="110.5" cy="336.8" r="1.95" fill="#48cfd3"/>
<circle cx="155.0" cy="318.5" r="1.95" fill="#f8a446"/>
<circle cx="108.3" cy="356.9" r="1.95" fill="#48cfd3"/>
<circle cx="126.5" cy="336.2" r="1.95" fill="#fde5bf"/>
<circle cx="97.3" cy="343.4" r="1.95" fill="#48cfd3"/>
<circle cx="152.2" cy="321.0" r="1.95" fill="#aaeed6"/>
<circle cx="136.5" cy="323.1" r="1.95" fill="#fde5bf"/>
<circle cx="159.6" cy="338.5" r="1.95" fill="#aaeed6"/>
<circle cx="91.7" cy="363.4" r="1.95" fill="#4b88ca"/>
<circle cx="126.1" cy="324.4" r="1.95" fill="#aaeed6"/>
<circle cx="100.8" cy="338.3" r="1.95" fill="#48cfd3"/>
<circle cx="145.8" cy="351.5" r="1.95" fill="#aaeed6"/>
<circle cx="145.0" cy="343.6" r="1.95" fill="#aaeed6"/>
<circle cx="121.0" cy="349.5" r="1.95" fill="#48cfd3"/>
<circle cx="99.0" cy="371.2" r="1.95" fill="#4b88ca"/>
<circle cx="197.2" cy="316.0" r="1.95" fill="#f7756e"/>
<circle cx="151.0" cy="336.8" r="1.95" fill="#aaeed6"/>
<circle cx="113.5" cy="312.8" r="1.95" fill="#fde5bf"/>
<circle cx="105.1" cy="346.1" r="1.95" fill="#48cfd3"/>
<circle cx="120.4" cy="336.6" r="1.95" fill="#48cfd3"/>
<circle cx="127.3" cy="333.4" r="1.95" fill="#aaeed6"/>
<circle cx="114.9" cy="357.4" r="1.95" fill="#48cfd3"/>
<circle cx="153.9" cy="314.3" r="1.95" fill="#fde5bf"/>
<circle cx="114.7" cy="337.2" r="1.95" fill="#48cfd3"/>
<circle cx="167.1" cy="313.0" r="1.95" fill="#f8a446"/>
<circle cx="105.9" cy="339.0" r="1.95" fill="#48cfd3"/>
<circle cx="163.2" cy="338.0" r="1.95" fill="#aaeed6"/>
<circle cx="146.3" cy="312.2" r="1.95" fill="#fde5bf"/>
<circle cx="156.6" cy="311.7" r="1.95" fill="#f7756e"/>
<circle cx="134.2" cy="359.2" r="1.95" fill="#48cfd3"/>
<circle cx="132.7" cy="303.8" r="1.95" fill="#fde5bf"/>
<circle cx="116.9" cy="343.7" r="1.95" fill="#48cfd3"/>
<circle cx="86.1" cy="363.1" r="1.95" fill="#4b88ca"/>
<circle cx="125.0" cy="334.6" r="1.95" fill="#48cfd3"/>
<circle cx="161.9" cy="333.1" r="1.95" fill="#f8a446"/>
<circle cx="107.8" cy="334.5" r="1.95" fill="#48cfd3"/>
<circle cx="103.3" cy="331.0" r="1.95" fill="#48cfd3"/>
<circle cx="169.5" cy="314.5" r="1.95" fill="#f8a446"/>
<circle cx="99.9" cy="325.4" r="1.95" fill="#48cfd3"/>
<circle cx="140.5" cy="336.8" r="1.95" fill="#aaeed6"/>
<circle cx="119.6" cy="335.9" r="1.95" fill="#48cfd3"/>
<circle cx="102.7" cy="331.8" r="1.95" fill="#48cfd3"/>
<circle cx="176.8" cy="302.7" r="1.95" fill="#f7756e"/>
<circle cx="91.3" cy="351.7" r="1.95" fill="#4b88ca"/>
<circle cx="209.9" cy="309.6" r="1.95" fill="#f7756e"/>
<circle cx="100.4" cy="325.1" r="1.95" fill="#48cfd3"/>
<circle cx="92.0" cy="376.0" r="1.95" fill="#4b88ca"/>
<circle cx="143.7" cy="334.1" r="1.95" fill="#aaeed6"/>
<circle cx="122.6" cy="328.2" r="1.95" fill="#aaeed6"/>
<circle cx="141.2" cy="326.2" r="1.95" fill="#fde5bf"/>
<circle cx="145.8" cy="316.2" r="1.95" fill="#fde5bf"/>
<circle cx="178.3" cy="322.4" r="1.95" fill="#f8a446"/>
<circle cx="110.1" cy="330.4" r="1.95" fill="#48cfd3"/>
<circle cx="86.5" cy="377.7" r="1.95" fill="#4b88ca"/>
<circle cx="109.8" cy="340.4" r="1.95" fill="#48cfd3"/>
<circle cx="113.2" cy="333.4" r="1.95" fill="#48cfd3"/>
<circle cx="153.9" cy="316.9" r="1.95" fill="#f7756e"/>
<circle cx="154.0" cy="327.5" r="1.95" fill="#aaeed6"/>
<circle cx="192.3" cy="321.3" r="1.95" fill="#f7756e"/>
<circle cx="114.9" cy="354.6" r="1.95" fill="#48cfd3"/>
<circle cx="105.1" cy="348.6" r="1.95" fill="#fde5bf"/>
<circle cx="141.9" cy="306.6" r="1.95" fill="#fde5bf"/>
<circle cx="113.0" cy="313.0" r="1.95" fill="#fde5bf"/>
<circle cx="151.4" cy="324.6" r="1.95" fill="#aaeed6"/>
<circle cx="136.6" cy="321.2" r="1.95" fill="#aaeed6"/>
<circle cx="144.6" cy="326.4" r="1.95" fill="#aaeed6"/>
<circle cx="123.2" cy="336.5" r="1.95" fill="#aaeed6"/>
<circle cx="103.8" cy="364.6" r="1.95" fill="#4b88ca"/>
<circle cx="154.1" cy="334.0" r="1.95" fill="#aaeed6"/>
<circle cx="123.5" cy="300.0" r="1.95" fill="#aaeed6"/>
<circle cx="148.7" cy="322.2" r="1.95" fill="#fde5bf"/>
<circle cx="203.7" cy="305.5" r="1.95" fill="#f7756e"/>
<circle cx="106.9" cy="344.8" r="1.95" fill="#48cfd3"/>
<circle cx="81.4" cy="373.7" r="1.95" fill="#4b88ca"/>
<circle cx="91.0" cy="373.8" r="1.95" fill="#4b88ca"/>
<circle cx="131.5" cy="313.0" r="1.95" fill="#fde5bf"/>
<circle cx="116.5" cy="313.1" r="1.95" fill="#fde5bf"/>
<circle cx="111.1" cy="329.4" r="1.95" fill="#48cfd3"/>
<circle cx="153.2" cy="324.5" r="1.95" fill="#fde5bf"/>
<circle cx="145.0" cy="316.4" r="1.95" fill="#fde5bf"/>
<circle cx="138.9" cy="342.7" r="1.95" fill="#aaeed6"/>
<circle cx="100.4" cy="373.7" r="1.95" fill="#4b88ca"/>
<circle cx="180.8" cy="324.9" r="1.95" fill="#f8a446"/>
<circle cx="122.9" cy="342.3" r="1.95" fill="#48cfd3"/>
<circle cx="120.9" cy="345.5" r="1.95" fill="#48cfd3"/>
<circle cx="116.6" cy="340.1" r="1.95" fill="#48cfd3"/>
<circle cx="135.9" cy="317.3" r="1.95" fill="#fde5bf"/>
<circle cx="97.6" cy="347.3" r="1.95" fill="#4b88ca"/>
<circle cx="129.4" cy="327.7" r="1.95" fill="#aaeed6"/>
<circle cx="113.2" cy="337.9" r="1.95" fill="#48cfd3"/>
<circle cx="102.9" cy="341.0" r="1.95" fill="#48cfd3"/>
<circle cx="107.1" cy="354.9" r="1.95" fill="#48cfd3"/>
<circle cx="86.1" cy="365.9" r="1.95" fill="#4b88ca"/>
<circle cx="102.7" cy="341.2" r="1.95" fill="#48cfd3"/>
<circle cx="99.2" cy="338.8" r="1.95" fill="#48cfd3"/>
<circle cx="159.5" cy="316.4" r="1.95" fill="#f8a446"/>
<circle cx="87.7" cy="374.5" r="1.95" fill="#4b88ca"/>
<circle cx="149.2" cy="287.2" r="1.95" fill="#f7756e"/>
<circle cx="136.9" cy="326.9" r="1.95" fill="#aaeed6"/>
<circle cx="163.2" cy="326.4" r="1.95" fill="#fde5bf"/>
<circle cx="142.4" cy="341.3" r="1.95" fill="#aaeed6"/>
<circle cx="155.3" cy="334.1" r="1.95" fill="#f8a446"/>
<circle cx="110.7" cy="348.9" r="1.95" fill="#48cfd3"/>
<circle cx="153.2" cy="307.2" r="1.95" fill="#f8a446"/>
<circle cx="86.7" cy="377.6" r="1.95" fill="#4b88ca"/>
<circle cx="85.3" cy="360.3" r="1.95" fill="#4b88ca"/>
<circle cx="99.9" cy="352.4" r="1.95" fill="#4b88ca"/>
<circle cx="94.7" cy="356.3" r="1.95" fill="#4b88ca"/>
<circle cx="87.9" cy="355.9" r="1.95" fill="#4b88ca"/>
<circle cx="131.5" cy="346.5" r="1.95" fill="#48cfd3"/>
<circle cx="123.0" cy="321.8" r="1.95" fill="#aaeed6"/>
<circle cx="132.5" cy="325.3" r="1.95" fill="#aaeed6"/>
<circle cx="118.3" cy="319.6" r="1.95" fill="#fde5bf"/>
<circle cx="121.2" cy="347.3" r="1.95" fill="#48cfd3"/>
<circle cx="85.6" cy="357.5" r="1.95" fill="#4b88ca"/>
<circle cx="86.3" cy="371.6" r="1.95" fill="#4b88ca"/>
<circle cx="117.5" cy="347.5" r="1.95" fill="#48cfd3"/>
<circle cx="151.2" cy="320.8" r="1.95" fill="#f7756e"/>
<circle cx="173.7" cy="322.2" r="1.95" fill="#f7756e"/>
<circle cx="153.5" cy="326.9" r="1.95" fill="#fde5bf"/>
<circle cx="166.8" cy="313.6" r="1.95" fill="#f8a446"/>
<circle cx="89.3" cy="388.2" r="1.95" fill="#4b88ca"/>
<circle cx="66.9" cy="353.4" r="1.95" fill="#4b88ca"/>
<circle cx="134.2" cy="336.2" r="1.95" fill="#fde5bf"/>
<circle cx="128.1" cy="330.8" r="1.95" fill="#fde5bf"/>
<circle cx="101.6" cy="334.5" r="1.95" fill="#48cfd3"/>
<circle cx="127.4" cy="337.9" r="1.95" fill="#aaeed6"/>
<circle cx="114.1" cy="333.0" r="1.95" fill="#48cfd3"/>
<circle cx="106.5" cy="330.2" r="1.95" fill="#48cfd3"/>
<circle cx="99.9" cy="365.7" r="1.95" fill="#4b88ca"/>
<circle cx="180.5" cy="289.1" r="1.95" fill="#f8a446"/>
<circle cx="125.7" cy="318.2" r="1.95" fill="#aaeed6"/>
<circle cx="87.3" cy="379.1" r="1.95" fill="#4b88ca"/>
<circle cx="109.1" cy="339.5" r="1.95" fill="#48cfd3"/>
<circle cx="114.2" cy="349.4" r="1.95" fill="#48cfd3"/>
<circle cx="128.9" cy="341.3" r="1.95" fill="#aaeed6"/>
<circle cx="135.0" cy="342.4" r="1.95" fill="#aaeed6"/>
<circle cx="104.8" cy="355.2" r="1.95" fill="#48cfd3"/>
<circle cx="89.0" cy="360.5" r="1.95" fill="#4b88ca"/>
<circle cx="83.8" cy="376.5" r="1.95" fill="#4b88ca"/>
<circle cx="209.2" cy="295.8" r="1.95" fill="#f8a446"/>
<circle cx="96.5" cy="344.7" r="1.95" fill="#4b88ca"/>
<circle cx="402.9" cy="325.6" r="1.95" fill="#f8a446"/>
<circle cx="352.5" cy="367.3" r="1.95" fill="#4b88ca"/>
<circle cx="349.9" cy="357.4" r="1.95" fill="#4b88ca"/>
<circle cx="397.0" cy="294.5" r="1.95" fill="#f8a446"/>
<circle cx="371.7" cy="336.9" r="1.95" fill="#aaeed6"/>
<circle cx="399.0" cy="336.0" r="1.95" fill="#fde5bf"/>
<circle cx="381.6" cy="344.7" r="1.95" fill="#aaeed6"/>
<circle cx="347.2" cy="369.0" r="1.95" fill="#4b88ca"/>
<circle cx="386.3" cy="332.6" r="1.95" fill="#f8a446"/>
<circle cx="389.1" cy="363.1" r="1.95" fill="#48cfd3"/>
<circle cx="354.9" cy="369.3" r="1.95" fill="#4b88ca"/>
<circle cx="373.5" cy="356.8" r="1.95" fill="#48cfd3"/>
<circle cx="399.6" cy="344.6" r="1.95" fill="#48cfd3"/>
<circle cx="348.5" cy="385.5" r="1.95" fill="#4b88ca"/>
<circle cx="374.8" cy="330.9" r="1.95" fill="#aaeed6"/>
<circle cx="346.5" cy="394.0" r="1.95" fill="#4b88ca"/>
<circle cx="408.1" cy="317.3" r="1.95" fill="#fde5bf"/>
<circle cx="356.9" cy="321.7" r="1.95" fill="#aaeed6"/>
<circle cx="366.7" cy="309.6" r="1.95" fill="#f8a446"/>
<circle cx="360.0" cy="324.9" r="1.95" fill="#aaeed6"/>
<circle cx="382.3" cy="326.0" r="1.95" fill="#aaeed6"/>
<circle cx="359.4" cy="366.2" r="1.95" fill="#4b88ca"/>
<circle cx="354.0" cy="325.4" r="1.95" fill="#48cfd3"/>
<circle cx="408.0" cy="338.0" r="1.95" fill="#fde5bf"/>
<circle cx="395.1" cy="312.6" r="1.95" fill="#f8a446"/>
<circle cx="356.3" cy="347.9" r="1.95" fill="#48cfd3"/>
<circle cx="406.8" cy="298.5" r="1.95" fill="#f8a446"/>
<circle cx="376.3" cy="354.6" r="1.95" fill="#48cfd3"/>
<circle cx="398.8" cy="337.2" r="1.95" fill="#aaeed6"/>
<circle cx="411.6" cy="314.4" r="1.95" fill="#fde5bf"/>
<circle cx="393.0" cy="355.2" r="1.95" fill="#48cfd3"/>
<circle cx="378.7" cy="343.4" r="1.95" fill="#48cfd3"/>
<circle cx="391.5" cy="318.5" r="1.95" fill="#f8a446"/>
<circle cx="378.8" cy="351.9" r="1.95" fill="#48cfd3"/>
<circle cx="372.0" cy="348.2" r="1.95" fill="#48cfd3"/>
<circle cx="408.9" cy="326.2" r="1.95" fill="#fde5bf"/>
<circle cx="375.5" cy="313.7" r="1.95" fill="#f8a446"/>
<circle cx="383.2" cy="349.7" r="1.95" fill="#48cfd3"/>
<circle cx="397.6" cy="342.1" r="1.95" fill="#aaeed6"/>
<circle cx="369.3" cy="327.5" r="1.95" fill="#aaeed6"/>
<circle cx="364.0" cy="368.4" r="1.95" fill="#4b88ca"/>
<circle cx="362.4" cy="319.0" r="1.95" fill="#aaeed6"/>
<circle cx="356.6" cy="333.8" r="1.95" fill="#48cfd3"/>
<circle cx="398.6" cy="320.8" r="1.95" fill="#fde5bf"/>
<circle cx="366.4" cy="339.1" r="1.95" fill="#48cfd3"/>
<circle cx="428.9" cy="322.5" r="1.95" fill="#f7756e"/>
<circle cx="374.9" cy="326.5" r="1.95" fill="#aaeed6"/>
<circle cx="363.0" cy="354.5" r="1.95" fill="#4b88ca"/>
<circle cx="435.3" cy="316.8" r="1.95" fill="#f7756e"/>
<circle cx="357.6" cy="353.4" r="1.95" fill="#4b88ca"/>
<circle cx="481.9" cy="300.3" r="1.95" fill="#f7756e"/>
<circle cx="357.3" cy="361.5" r="1.95" fill="#4b88ca"/>
<circle cx="369.3" cy="356.5" r="1.95" fill="#4b88ca"/>
<circle cx="419.4" cy="310.2" r="1.95" fill="#f7756e"/>
<circle cx="392.3" cy="336.1" r="1.95" fill="#aaeed6"/>
<circle cx="361.6" cy="350.7" r="1.95" fill="#48cfd3"/>
<circle cx="374.0" cy="304.3" r="1.95" fill="#f8a446"/>
<circle cx="372.0" cy="330.0" r="1.95" fill="#48cfd3"/>
<circle cx="364.1" cy="328.1" r="1.95" fill="#aaeed6"/>
<circle cx="354.1" cy="335.6" r="1.95" fill="#48cfd3"/>
<circle cx="378.3" cy="356.3" r="1.95" fill="#48cfd3"/>
<circle cx="442.4" cy="316.1" r="1.95" fill="#f7756e"/>
<circle cx="387.2" cy="321.3" r="1.95" fill="#aaeed6"/>
<circle cx="358.9" cy="329.3" r="1.95" fill="#aaeed6"/>
<circle cx="349.6" cy="344.2" r="1.95" fill="#4b88ca"/>
<circle cx="377.4" cy="309.0" r="1.95" fill="#aaeed6"/>
<circle cx="397.5" cy="328.6" r="1.95" fill="#f8a446"/>
<circle cx="346.4" cy="374.4" r="1.95" fill="#4b88ca"/>
<circle cx="364.9" cy="361.0" r="1.95" fill="#4b88ca"/>
<circle cx="391.5" cy="324.9" r="1.95" fill="#aaeed6"/>
<circle cx="356.1" cy="325.4" r="1.95" fill="#aaeed6"/>
<circle cx="397.0" cy="322.2" r="1.95" fill="#fde5bf"/>
<circle cx="391.0" cy="343.6" r="1.95" fill="#aaeed6"/>
<circle cx="363.1" cy="357.4" r="1.95" fill="#4b88ca"/>
<circle cx="370.9" cy="354.1" r="1.95" fill="#48cfd3"/>
<circle cx="349.6" cy="341.2" r="1.95" fill="#4b88ca"/>
<circle cx="420.4" cy="307.8" r="1.95" fill="#fde5bf"/>
<circle cx="362.7" cy="348.2" r="1.95" fill="#48cfd3"/>
<circle cx="366.8" cy="353.0" r="1.95" fill="#48cfd3"/>
<circle cx="405.0" cy="336.0" r="1.95" fill="#aaeed6"/>
<circle cx="373.9" cy="341.8" r="1.95" fill="#48cfd3"/>
<circle cx="379.5" cy="346.0" r="1.95" fill="#48cfd3"/>
<circle cx="364.0" cy="342.9" r="1.95" fill="#48cfd3"/>
<circle cx="382.8" cy="338.7" r="1.95" fill="#aaeed6"/>
<circle cx="462.5" cy="287.3" r="1.95" fill="#f7756e"/>
<circle cx="393.0" cy="318.3" r="1.95" fill="#fde5bf"/>
<circle cx="350.2" cy="369.0" r="1.95" fill="#4b88ca"/>
<circle cx="397.5" cy="313.7" r="1.95" fill="#f8a446"/>
<circle cx="445.4" cy="317.3" r="1.95" fill="#f7756e"/>
<circle cx="387.3" cy="339.9" r="1.95" fill="#aaeed6"/>
<circle cx="362.1" cy="331.7" r="1.95" fill="#aaeed6"/>
<circle cx="431.7" cy="313.7" r="1.95" fill="#fde5bf"/>
<circle cx="399.6" cy="314.3" r="1.95" fill="#f8a446"/>
<circle cx="400.5" cy="314.4" r="1.95" fill="#f8a446"/>
<circle cx="352.9" cy="363.4" r="1.95" fill="#4b88ca"/>
<circle cx="350.4" cy="344.8" r="1.95" fill="#48cfd3"/>
<circle cx="388.0" cy="314.9" r="1.95" fill="#f8a446"/>
<circle cx="406.9" cy="314.4" r="1.95" fill="#f8a446"/>
<circle cx="352.8" cy="345.8" r="1.95" fill="#4b88ca"/>
<circle cx="386.5" cy="319.6" r="1.95" fill="#f8a446"/>
<circle cx="389.1" cy="307.2" r="1.95" fill="#f8a446"/>
<circle cx="371.6" cy="324.6" r="1.95" fill="#aaeed6"/>
<circle cx="371.9" cy="351.7" r="1.95" fill="#48cfd3"/>
<circle cx="367.3" cy="344.5" r="1.95" fill="#48cfd3"/>
<circle cx="431.3" cy="320.8" r="1.95" fill="#f7756e"/>
<circle cx="353.0" cy="346.9" r="1.95" fill="#48cfd3"/>
<circle cx="372.7" cy="345.6" r="1.95" fill="#48cfd3"/>
<circle cx="401.0" cy="311.4" r="1.95" fill="#fde5bf"/>
<circle cx="375.1" cy="313.8" r="1.95" fill="#f8a446"/>
<circle cx="401.0" cy="343.0" r="1.95" fill="#fde5bf"/>
<circle cx="416.4" cy="316.1" r="1.95" fill="#fde5bf"/>
<circle cx="402.3" cy="320.9" r="1.95" fill="#fde5bf"/>
<circle cx="385.6" cy="319.6" r="1.95" fill="#f8a446"/>
<circle cx="370.3" cy="343.8" r="1.95" fill="#48cfd3"/>
<circle cx="366.5" cy="331.0" r="1.95" fill="#aaeed6"/>
<circle cx="356.5" cy="365.5" r="1.95" fill="#4b88ca"/>
<circle cx="388.7" cy="336.0" r="1.95" fill="#aaeed6"/>
<circle cx="349.2" cy="341.7" r="1.95" fill="#48cfd3"/>
<circle cx="405.7" cy="312.6" r="1.95" fill="#f8a446"/>
<circle cx="384.3" cy="296.4" r="1.95" fill="#f8a446"/>
<circle cx="406.2" cy="324.9" r="1.95" fill="#f8a446"/>
<circle cx="389.2" cy="307.4" r="1.95" fill="#f8a446"/>
<circle cx="379.4" cy="341.2" r="1.95" fill="#aaeed6"/>
<circle cx="349.4" cy="335.0" r="1.95" fill="#48cfd3"/>
<circle cx="350.2" cy="376.0" r="1.95" fill="#4b88ca"/>
<circle cx="404.6" cy="321.5" r="1.95" fill="#fde5bf"/>
<circle cx="354.3" cy="372.2" r="1.95" fill="#4b88ca"/>
<circle cx="377.2" cy="326.2" r="1.95" fill="#f8a446"/>
<circle cx="373.0" cy="319.6" r="1.95" fill="#aaeed6"/>
<circle cx="452.5" cy="336.7" r="1.95" fill="#f7756e"/>
<circle cx="353.4" cy="339.2" r="1.95" fill="#48cfd3"/>
<circle cx="363.4" cy="339.8" r="1.95" fill="#48cfd3"/>
<circle cx="397.0" cy="313.0" r="1.95" fill="#f8a446"/>
<circle cx="426.5" cy="310.2" r="1.95" fill="#f7756e"/>
<circle cx="374.6" cy="323.5" r="1.95" fill="#f8a446"/>
<circle cx="387.8" cy="332.8" r="1.95" fill="#f8a446"/>
<circle cx="359.1" cy="358.5" r="1.95" fill="#4b88ca"/>
<circle cx="415.2" cy="348.0" r="1.95" fill="#fde5bf"/>
<circle cx="350.5" cy="339.2" r="1.95" fill="#48cfd3"/>
<circle cx="355.8" cy="341.8" r="1.95" fill="#48cfd3"/>
<circle cx="346.2" cy="347.3" r="1.95" fill="#4b88ca"/>
<circle cx="375.1" cy="322.6" r="1.95" fill="#aaeed6"/>
<circle cx="377.2" cy="309.6" r="1.95" fill="#aaeed6"/>
<circle cx="390.9" cy="339.6" r="1.95" fill="#aaeed6"/>
<circle cx="438.4" cy="337.4" r="1.95" fill="#fde5bf"/>
<circle cx="363.3" cy="334.6" r="1.95" fill="#48cfd3"/>
<circle cx="376.3" cy="347.6" r="1.95" fill="#48cfd3"/>
<circle cx="379.3" cy="336.4" r="1.95" fill="#aaeed6"/>
<circle cx="358.7" cy="372.3" r="1.95" fill="#4b88ca"/>
<circle cx="390.5" cy="332.4" r="1.95" fill="#aaeed6"/>
<circle cx="391.7" cy="347.3" r="1.95" fill="#aaeed6"/>
<circle cx="392.0" cy="338.0" r="1.95" fill="#aaeed6"/>
<circle cx="390.4" cy="349.9" r="1.95" fill="#48cfd3"/>
<circle cx="346.9" cy="344.8" r="1.95" fill="#48cfd3"/>
<circle cx="386.4" cy="333.0" r="1.95" fill="#aaeed6"/>
<circle cx="360.6" cy="339.4" r="1.95" fill="#48cfd3"/>
<circle cx="349.6" cy="378.9" r="1.95" fill="#4b88ca"/>
<circle cx="365.1" cy="346.1" r="1.95" fill="#48cfd3"/>
<circle cx="353.4" cy="343.4" r="1.95" fill="#48cfd3"/>
<circle cx="350.6" cy="365.1" r="1.95" fill="#4b88ca"/>
<circle cx="362.8" cy="370.2" r="1.95" fill="#4b88ca"/>
<circle cx="356.1" cy="350.9" r="1.95" fill="#4b88ca"/>
<circle cx="418.7" cy="324.8" r="1.95" fill="#fde5bf"/>
<circle cx="390.3" cy="328.5" r="1.95" fill="#aaeed6"/>
<circle cx="375.7" cy="336.2" r="1.95" fill="#aaeed6"/>
<circle cx="387.2" cy="316.9" r="1.95" fill="#f8a446"/>
<circle cx="354.2" cy="375.3" r="1.95" fill="#4b88ca"/>
<circle cx="443.6" cy="320.1" r="1.95" fill="#f7756e"/>
<circle cx="429.8" cy="312.6" r="1.95" fill="#f7756e"/>
<circle cx="381.0" cy="356.2" r="1.95" fill="#48cfd3"/>
<circle cx="415.2" cy="323.2" r="1.95" fill="#fde5bf"/>
<circle cx="369.0" cy="350.9" r="1.95" fill="#48cfd3"/>
<circle cx="349.1" cy="362.5" r="1.95" fill="#4b88ca"/>
<circle cx="365.3" cy="336.3" r="1.95" fill="#48cfd3"/>
<circle cx="347.7" cy="392.1" r="1.95" fill="#4b88ca"/>
<circle cx="411.5" cy="351.2" r="1.95" fill="#48cfd3"/>
<circle cx="377.9" cy="328.6" r="1.95" fill="#aaeed6"/>
<circle cx="375.0" cy="325.6" r="1.95" fill="#f8a446"/>
<circle cx="366.7" cy="299.8" r="1.95" fill="#aaeed6"/>
<circle cx="397.5" cy="345.7" r="1.95" fill="#aaeed6"/>
<circle cx="436.9" cy="331.9" r="1.95" fill="#fde5bf"/>
<circle cx="364.6" cy="296.4" r="1.95" fill="#f8a446"/>
<circle cx="432.9" cy="304.3" r="1.95" fill="#f7756e"/>
<circle cx="357.6" cy="344.9" r="1.95" fill="#48cfd3"/>
<circle cx="359.9" cy="348.4" r="1.95" fill="#4b88ca"/>
<circle cx="367.1" cy="323.5" r="1.95" fill="#aaeed6"/>
<circle cx="395.0" cy="343.0" r="1.95" fill="#aaeed6"/>
<circle cx="346.8" cy="342.3" r="1.95" fill="#4b88ca"/>
<circle cx="414.0" cy="314.9" r="1.95" fill="#f8a446"/>
<circle cx="356.1" cy="379.7" r="1.95" fill="#4b88ca"/>
<circle cx="356.1" cy="315.6" r="1.95" fill="#aaeed6"/>
<circle cx="357.7" cy="336.5" r="1.95" fill="#48cfd3"/>
<circle cx="375.3" cy="339.6" r="1.95" fill="#48cfd3"/>
<circle cx="375.6" cy="345.0" r="1.95" fill="#48cfd3"/>
<circle cx="346.0" cy="360.1" r="1.95" fill="#4b88ca"/>
<circle cx="351.2" cy="373.2" r="1.95" fill="#4b88ca"/>
<circle cx="395.2" cy="339.3" r="1.95" fill="#aaeed6"/>
<circle cx="349.8" cy="347.8" r="1.95" fill="#4b88ca"/>
<circle cx="385.2" cy="344.0" r="1.95" fill="#aaeed6"/>
<circle cx="468.6" cy="287.3" r="1.95" fill="#f7756e"/>
<circle cx="360.9" cy="342.0" r="1.95" fill="#48cfd3"/>
<circle cx="367.1" cy="348.5" r="1.95" fill="#48cfd3"/>
<circle cx="346.9" cy="364.3" r="1.95" fill="#4b88ca"/>
<circle cx="357.4" cy="372.4" r="1.95" fill="#4b88ca"/>
<circle cx="352.9" cy="328.8" r="1.95" fill="#48cfd3"/>
<circle cx="410.5" cy="326.7" r="1.95" fill="#fde5bf"/>
<circle cx="346.9" cy="396.1" r="1.95" fill="#4b88ca"/>
<circle cx="386.5" cy="367.1" r="1.95" fill="#4b88ca"/>
<circle cx="422.3" cy="324.8" r="1.95" fill="#fde5bf"/>
<circle cx="368.6" cy="319.0" r="1.95" fill="#aaeed6"/>
<circle cx="353.2" cy="350.6" r="1.95" fill="#4b88ca"/>
<circle cx="387.9" cy="325.3" r="1.95" fill="#aaeed6"/>
<circle cx="359.2" cy="347.2" r="1.95" fill="#48cfd3"/>
<circle cx="364.6" cy="331.5" r="1.95" fill="#f8a446"/>
<circle cx="353.0" cy="359.9" r="1.95" fill="#4b88ca"/>
<circle cx="351.6" cy="354.9" r="1.95" fill="#4b88ca"/>
<circle cx="373.3" cy="300.6" r="1.95" fill="#f8a446"/>
<circle cx="360.1" cy="354.7" r="1.95" fill="#4b88ca"/>
<circle cx="378.8" cy="332.5" r="1.95" fill="#aaeed6"/>
<circle cx="374.3" cy="352.8" r="1.95" fill="#48cfd3"/>
<circle cx="385.6" cy="312.6" r="1.95" fill="#f8a446"/>
<circle cx="382.7" cy="319.2" r="1.95" fill="#aaeed6"/>
<circle cx="364.5" cy="366.1" r="1.95" fill="#4b88ca"/>
<circle cx="396.4" cy="332.8" r="1.95" fill="#aaeed6"/>
<circle cx="445.9" cy="303.1" r="1.95" fill="#f7756e"/>
<circle cx="404.6" cy="332.6" r="1.95" fill="#fde5bf"/>
<circle cx="367.8" cy="334.7" r="1.95" fill="#aaeed6"/>
<circle cx="372.0" cy="338.6" r="1.95" fill="#48cfd3"/>
<circle cx="361.2" cy="351.8" r="1.95" fill="#4b88ca"/>
<circle cx="391.0" cy="348.3" r="1.95" fill="#aaeed6"/>
<circle cx="500.8" cy="305.9" r="1.95" fill="#f7756e"/>
<circle cx="383.9" cy="329.2" r="1.95" fill="#aaeed6"/>
<circle cx="411.5" cy="316.9" r="1.95" fill="#fde5bf"/>
<circle cx="349.6" cy="352.6" r="1.95" fill="#4b88ca"/>
<circle cx="348.3" cy="372.4" r="1.95" fill="#4b88ca"/>
<circle cx="403.6" cy="330.1" r="1.95" fill="#fde5bf"/>
<circle cx="371.1" cy="332.9" r="1.95" fill="#aaeed6"/>
<circle cx="377.5" cy="317.5" r="1.95" fill="#aaeed6"/>
<circle cx="359.8" cy="370.1" r="1.95" fill="#4b88ca"/>
<circle cx="377.2" cy="361.8" r="1.95" fill="#48cfd3"/>
<circle cx="366.9" cy="341.8" r="1.95" fill="#48cfd3"/>
<circle cx="370.6" cy="365.8" r="1.95" fill="#4b88ca"/>
<circle cx="385.1" cy="314.3" r="1.95" fill="#f8a446"/>
<circle cx="376.3" cy="350.9" r="1.95" fill="#48cfd3"/>
<circle cx="428.9" cy="304.3" r="1.95" fill="#fde5bf"/>
<circle cx="398.3" cy="289.2" r="1.95" fill="#f8a446"/>
<circle cx="398.3" cy="328.8" r="1.95" fill="#f8a446"/>
<circle cx="360.6" cy="335.1" r="1.95" fill="#48cfd3"/>
<circle cx="369.2" cy="337.6" r="1.95" fill="#48cfd3"/>
<circle cx="363.5" cy="322.7" r="1.95" fill="#aaeed6"/>
<circle cx="391.7" cy="314.3" r="1.95" fill="#f8a446"/>
<circle cx="350.8" cy="382.9" r="1.95" fill="#4b88ca"/>
<circle cx="352.5" cy="342.7" r="1.95" fill="#4b88ca"/>
<circle cx="357.1" cy="345.8" r="1.95" fill="#4b88ca"/>
<circle cx="369.5" cy="340.4" r="1.95" fill="#48cfd3"/>
<circle cx="363.2" cy="363.6" r="1.95" fill="#4b88ca"/>
<circle cx="355.1" cy="347.8" r="1.95" fill="#4b88ca"/>
<circle cx="418.7" cy="335.0" r="1.95" fill="#fde5bf"/>
<circle cx="379.5" cy="321.9" r="1.95" fill="#aaeed6"/>
<circle cx="355.6" cy="356.1" r="1.95" fill="#4b88ca"/>
<circle cx="410.2" cy="332.8" r="1.95" fill="#fde5bf"/>
<circle cx="451.8" cy="311.6" r="1.95" fill="#f7756e"/>
<circle cx="405.0" cy="340.0" r="1.95" fill="#fde5bf"/>
<circle cx="379.0" cy="348.6" r="1.95" fill="#48cfd3"/>
<circle cx="361.8" cy="345.0" r="1.95" fill="#48cfd3"/>
<circle cx="354.5" cy="353.2" r="1.95" fill="#4b88ca"/>
<circle cx="358.0" cy="339.1" r="1.95" fill="#48cfd3"/>
<circle cx="382.4" cy="347.1" r="1.95" fill="#48cfd3"/>
<circle cx="347.7" cy="349.7" r="1.95" fill="#4b88ca"/>
<circle cx="405.7" cy="313.8" r="1.95" fill="#f8a446"/>
<circle cx="351.8" cy="334.0" r="1.95" fill="#48cfd3"/>
<circle cx="402.3" cy="343.3" r="1.95" fill="#aaeed6"/>
<circle cx="383.0" cy="334.6" r="1.95" fill="#aaeed6"/>
<circle cx="394.5" cy="328.6" r="1.95" fill="#aaeed6"/>
<circle cx="364.0" cy="352.9" r="1.95" fill="#48cfd3"/>
<circle cx="346.5" cy="340.7" r="1.95" fill="#48cfd3"/>
<circle cx="349.5" cy="388.2" r="1.95" fill="#4b88ca"/>
<circle cx="369.4" cy="356.3" r="1.95" fill="#48cfd3"/>
<circle cx="346.9" cy="329.6" r="1.95" fill="#48cfd3"/>
<circle cx="384.0" cy="335.0" r="1.95" fill="#aaeed6"/>
<circle cx="361.5" cy="361.1" r="1.95" fill="#4b88ca"/>
<circle cx="381.5" cy="353.2" r="1.95" fill="#48cfd3"/>
<circle cx="410.5" cy="322.5" r="1.95" fill="#fde5bf"/>
<circle cx="346.9" cy="355.9" r="1.95" fill="#4b88ca"/>
<circle cx="375.0" cy="342.0" r="1.95" fill="#48cfd3"/>
<circle cx="345.7" cy="352.1" r="1.95" fill="#4b88ca"/>
<circle cx="346.8" cy="377.4" r="1.95" fill="#4b88ca"/>
<circle cx="396.0" cy="327.0" r="1.95" fill="#fde5bf"/>
<circle cx="347.0" cy="336.5" r="1.95" fill="#48cfd3"/>
</svg>
</body></html>
